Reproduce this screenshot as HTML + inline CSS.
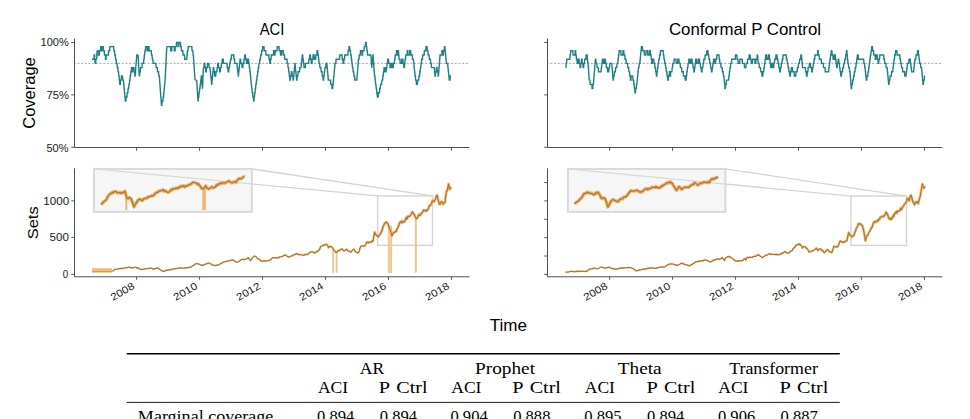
<!DOCTYPE html>
<html><head><meta charset="utf-8"><title>figure</title>
<style>html,body{margin:0;padding:0;background:#fff;overflow:hidden}svg{display:block}</style>
</head><body>
<svg width="970" height="419" viewBox="0 0 970 419"><rect x="0" y="0" width="970" height="419" fill="#fff"/>
<path d="M74.5,38.5 V147.5 H469.40" fill="none" stroke="#484848" stroke-width="0.95"/>
<path d="M136.60,147.5 V150.8" stroke="#484848" stroke-width="0.9"/>
<path d="M199.57,147.5 V150.8" stroke="#484848" stroke-width="0.9"/>
<path d="M262.54,147.5 V150.8" stroke="#484848" stroke-width="0.9"/>
<path d="M325.51,147.5 V150.8" stroke="#484848" stroke-width="0.9"/>
<path d="M388.48,147.5 V150.8" stroke="#484848" stroke-width="0.9"/>
<path d="M451.45,147.5 V150.8" stroke="#484848" stroke-width="0.9"/>
<path d="M71.2,42.5 H74.5" stroke="#484848" stroke-width="0.9"/>
<path d="M71.2,94.9 H74.5" stroke="#484848" stroke-width="0.9"/>
<path d="M71.2,147.3 H74.5" stroke="#484848" stroke-width="0.9"/>
<path d="M74.5,63.4 H469.40" stroke="#8c8c8c" stroke-width="0.75" stroke-dasharray="2.1,1.6" stroke-dashoffset="0.9"/>
<path d="M547.5,38.5 V147.5 H942.40" fill="none" stroke="#484848" stroke-width="0.95"/>
<path d="M609.60,147.5 V150.8" stroke="#484848" stroke-width="0.9"/>
<path d="M672.57,147.5 V150.8" stroke="#484848" stroke-width="0.9"/>
<path d="M735.54,147.5 V150.8" stroke="#484848" stroke-width="0.9"/>
<path d="M798.51,147.5 V150.8" stroke="#484848" stroke-width="0.9"/>
<path d="M861.48,147.5 V150.8" stroke="#484848" stroke-width="0.9"/>
<path d="M924.45,147.5 V150.8" stroke="#484848" stroke-width="0.9"/>
<path d="M544.2,42.5 H547.5" stroke="#484848" stroke-width="0.9"/>
<path d="M544.2,94.9 H547.5" stroke="#484848" stroke-width="0.9"/>
<path d="M544.2,147.3 H547.5" stroke="#484848" stroke-width="0.9"/>
<path d="M547.5,63.4 H942.40" stroke="#8c8c8c" stroke-width="0.75" stroke-dasharray="2.1,1.6" stroke-dashoffset="0.9"/>
<path d="M92.00,59.18 H94.10 V54.99 H94.63 V59.18 H95.00 H94.85 L95.15,63.38 H95.00 H95.70 L96.00,59.18 H96.70 H96.62 L96.93,54.99 H96.77 L97.08,50.79 H97.00 H98.50 V54.99 H99.30 V50.79 H100.40 H100.50 L100.80,46.60 H100.90 H101.25 V50.79 H101.87 V46.60 H103.00 H103.20 L103.50,50.79 H103.70 H104.20 L104.50,54.99 H105.00 H105.51 V59.18 H106.05 V54.99 H108.40 H108.40 L108.70,50.79 H108.70 H109.65 L109.95,46.60 H110.90 H113.40 H113.65 L113.95,50.79 H114.45 L114.75,54.99 H115.00 H115.27 L115.58,59.18 H116.12 L116.43,63.38 H116.70 H116.97 L117.28,67.58 H117.83 L118.13,71.77 H118.40 H118.52 L118.82,75.97 H119.05 L119.35,80.16 H119.58 L119.88,84.36 H120.00 H120.27 L120.58,80.16 H121.12 L121.43,75.97 H121.70 H122.40 L122.70,80.16 H123.40 H123.45 L123.75,84.36 H123.85 L124.15,88.56 H124.25 L124.55,92.75 H124.65 L124.95,96.95 H125.05 L125.35,101.14 H125.40 H125.80 L126.10,96.95 H126.90 L127.20,92.75 H127.60 H127.85 L128.15,88.56 H128.65 L128.95,84.36 H129.20 H129.35 L129.65,80.16 H129.95 L130.25,75.97 H130.40 H130.57 L130.88,71.77 H131.22 L131.53,67.58 H131.70 H132.13 V71.77 H132.55 V67.58 H133.70 H133.90 L134.20,71.77 H134.60 L134.90,75.97 H135.10 H135.12 L135.42,71.77 H135.46 L135.76,67.58 H135.80 L136.10,63.38 H136.14 L136.44,59.18 H136.48 L136.78,54.99 H136.80 H138.10 H138.07 L138.37,59.18 H138.31 L138.61,63.38 H138.55 L138.85,67.58 H138.79 L139.09,71.77 H139.03 L139.33,75.97 H139.30 H139.55 L139.85,71.77 H140.35 L140.65,67.58 H140.90 H142.00 L142.30,63.38 H143.40 H143.53 L143.83,59.18 H144.10 L144.40,54.99 H144.67 L144.97,50.79 H145.10 H145.35 L145.65,46.60 H145.90 H147.15 V50.79 H147.90 V46.60 H148.40 H148.95 L149.25,50.79 H149.80 H151.00 H151.25 L151.55,54.99 H152.05 L152.35,59.18 H152.85 L153.15,63.38 H153.40 H155.10 H155.80 L156.10,67.58 H156.80 H157.28 L157.58,71.77 H158.53 L158.83,75.97 H159.30 H159.31 L159.61,80.16 H159.62 L159.92,84.36 H159.94 L160.24,88.56 H160.25 L160.55,92.75 H160.56 L160.86,96.95 H160.88 L161.18,101.14 H161.19 L161.49,105.34 H161.50 H161.85 L162.15,101.14 H162.85 L163.15,96.95 H163.50 H163.55 L163.85,92.75 H163.95 L164.25,88.56 H164.35 L164.65,84.36 H164.75 L165.05,80.16 H165.10 H165.06 L165.36,75.97 H165.27 L165.57,71.77 H165.48 L165.78,67.58 H165.69 L165.99,63.38 H165.91 L166.21,59.18 H166.12 L166.42,54.99 H166.33 L166.63,50.79 H166.54 L166.84,46.60 H166.80 H170.10 H170.40 L170.70,50.79 H171.00 H171.65 L171.95,46.60 H172.60 H174.28 V50.79 H175.15 V46.60 H176.00 H176.25 L176.55,42.40 H176.80 H178.07 V46.60 H178.85 V42.40 H180.20 H180.42 L180.72,46.60 H181.17 L181.47,50.79 H181.70 H182.80 L183.10,54.99 H184.20 H184.45 L184.75,59.18 H185.00 H186.70 H186.75 L187.05,54.99 H187.15 L187.45,50.79 H187.50 H187.95 L188.25,46.60 H188.70 H191.40 H191.80 L192.10,50.79 H192.50 H192.80 L193.10,54.99 H193.40 H193.38 L193.68,59.18 H193.65 L193.95,63.38 H193.92 L194.22,67.58 H194.18 L194.48,71.77 H194.45 L194.75,75.97 H194.72 L195.02,80.16 H195.00 H196.70 H196.68 L196.98,84.36 H196.94 L197.24,88.56 H197.20 L197.50,92.75 H197.46 L197.76,96.95 H197.72 L198.02,101.14 H198.00 H198.15 L198.45,96.95 H198.75 L199.05,92.75 H199.20 H199.35 L199.65,88.56 H199.95 L200.25,84.36 H200.40 H200.50 L200.80,80.16 H201.00 L201.30,75.97 H201.40 H201.43 L201.73,80.16 H201.80 L202.10,84.36 H202.17 L202.47,88.56 H202.50 H202.44 L202.74,84.36 H202.62 L202.92,80.16 H202.80 L203.10,75.97 H202.98 L203.28,71.77 H203.16 L203.46,67.58 H203.40 H203.90 L204.20,63.38 H204.70 H204.85 L205.15,67.58 H205.45 L205.75,71.77 H205.90 H206.28 L206.58,67.58 H207.32 L207.62,63.38 H208.00 H208.85 L209.15,67.58 H210.00 H210.06 L210.36,71.77 H210.49 L210.79,75.97 H210.91 L211.21,80.16 H211.34 L211.64,84.36 H211.70 H211.76 L212.06,80.16 H212.19 L212.49,75.97 H212.61 L212.91,71.77 H213.04 L213.34,67.58 H213.40 H213.65 L213.95,71.77 H214.45 L214.75,75.97 H215.00 H215.70 L216.00,71.77 H216.70 H216.87 L217.17,67.58 H217.53 L217.83,63.38 H218.00 H218.35 L218.65,67.58 H219.35 L219.65,71.77 H220.00 H220.28 L220.58,67.58 H221.15 L221.45,63.38 H222.02 L222.32,59.18 H222.60 H223.25 L223.55,63.38 H224.20 H226.70 H226.97 L227.28,67.58 H227.82 L228.12,71.77 H228.40 H228.65 L228.95,67.58 H229.45 L229.75,63.38 H230.00 H230.30 L230.60,59.18 H231.20 L231.50,54.99 H231.80 H233.50 H233.75 L234.05,59.18 H234.55 L234.85,63.38 H235.10 H236.80 H236.92 L237.22,67.58 H237.45 L237.75,71.77 H237.98 L238.28,75.97 H238.40 H238.46 L238.76,71.77 H238.89 L239.19,67.58 H239.31 L239.61,63.38 H239.74 L240.04,59.18 H240.10 H240.57 L240.88,63.38 H241.82 L242.12,67.58 H242.60 H242.87 L243.17,63.38 H243.70 L244.00,59.18 H244.53 L244.83,54.99 H245.10 H245.38 L245.68,59.18 H246.22 L246.53,63.38 H246.80 H247.45 L247.75,59.18 H248.40 H248.53 L248.83,63.38 H249.10 L249.40,67.58 H249.67 L249.97,71.77 H250.10 H250.16 L250.46,75.97 H250.59 L250.89,80.16 H251.01 L251.31,84.36 H251.44 L251.74,88.56 H251.80 H251.98 L252.28,92.75 H252.65 L252.95,96.95 H253.32 L253.62,101.14 H253.80 H253.93 L254.23,96.95 H254.47 L254.78,92.75 H255.03 L255.33,88.56 H255.57 L255.88,84.36 H256.00 H256.16 L256.46,80.16 H256.79 L257.09,75.97 H257.41 L257.71,71.77 H258.04 L258.34,67.58 H258.50 H258.77 L259.07,63.38 H259.60 L259.90,59.18 H260.43 L260.73,54.99 H261.00 H261.38 L261.67,50.79 H262.43 L262.73,46.60 H263.10 H263.95 L264.25,50.79 H265.10 H265.80 L266.10,54.99 H266.80 H268.50 H268.78 L269.07,59.18 H269.62 L269.92,63.38 H270.20 H270.38 L270.67,59.18 H271.03 L271.32,54.99 H271.50 H273.59 V50.79 H274.08 V54.99 H274.30 H275.00 L275.30,50.79 H276.00 H277.00 L277.30,46.60 H278.30 H279.00 L279.30,50.79 H280.00 H280.25 L280.55,54.99 H280.80 H281.50 L281.80,50.79 H282.50 H283.20 L283.50,54.99 H284.20 H284.45 L284.75,59.18 H285.00 H286.70 H286.98 L287.27,63.38 H287.82 L288.12,67.58 H288.40 H288.52 L288.82,71.77 H289.05 L289.35,75.97 H289.58 L289.88,80.16 H290.00 H290.28 L290.57,75.97 H291.12 L291.42,71.77 H291.70 H291.98 L292.27,75.97 H292.82 L293.12,80.16 H293.40 H293.45 L293.75,75.97 H293.85 L294.15,71.77 H294.25 L294.55,67.58 H294.65 L294.95,63.38 H295.00 H295.06 L295.36,67.58 H295.49 L295.79,71.77 H295.91 L296.21,75.97 H296.34 L296.64,80.16 H296.70 H296.98 L297.27,75.97 H297.82 L298.12,71.77 H298.40 H299.50 L299.80,67.58 H300.90 H301.02 L301.32,63.38 H301.55 L301.85,59.18 H302.08 L302.38,54.99 H302.50 H302.63 L302.93,59.18 H303.20 L303.50,63.38 H303.77 L304.07,67.58 H304.20 H305.30 L305.60,63.38 H306.70 H308.40 H308.68 L308.97,59.18 H309.53 L309.82,54.99 H310.10 H310.35 L310.65,59.18 H311.15 L311.45,63.38 H311.70 H311.98 L312.27,59.18 H312.82 L313.12,54.99 H313.40 H314.10 L314.40,59.18 H315.10 H315.58 L315.88,54.99 H316.83 L317.12,50.79 H317.60 H317.72 L318.02,54.99 H318.25 L318.55,59.18 H318.78 L319.08,63.38 H319.20 H319.68 L319.97,67.58 H320.93 L321.22,71.77 H321.70 H321.98 L322.27,75.97 H322.82 L323.12,80.16 H323.40 H323.53 L323.83,75.97 H324.10 L324.40,71.77 H324.67 L324.97,67.58 H325.10 H325.80 L326.10,63.38 H326.80 H326.85 L327.15,67.58 H327.25 L327.55,71.77 H327.65 L327.95,75.97 H328.05 L328.35,80.16 H328.40 H330.00 H330.50 L330.80,84.36 H331.80 L332.10,88.56 H332.60 H332.66 L332.96,84.36 H333.08 L333.38,80.16 H333.49 L333.79,75.97 H333.91 L334.21,71.77 H334.33 L334.62,67.58 H334.74 L335.04,63.38 H335.10 H335.80 L336.10,59.18 H336.80 H339.30 H339.55 L339.85,54.99 H340.10 H341.80 H342.05 L342.35,59.18 H342.85 L343.15,63.38 H343.40 H343.68 L343.97,59.18 H344.53 L344.82,54.99 H345.10 H347.60 H347.88 L348.18,50.79 H348.73 L349.02,46.60 H349.30 H349.58 L349.88,50.79 H350.43 L350.72,54.99 H351.00 H351.12 L351.42,59.18 H351.65 L351.95,63.38 H352.18 L352.48,67.58 H352.60 H352.87 L353.17,71.77 H353.70 L354.00,75.97 H354.53 L354.83,80.16 H355.10 H356.80 H356.82 L357.12,75.97 H357.16 L357.46,71.77 H357.50 L357.80,67.58 H357.84 L358.14,63.38 H358.18 L358.48,59.18 H358.50 H358.98 L359.27,54.99 H360.23 L360.52,50.79 H361.00 H361.92 V54.99 H362.57 V50.79 H363.50 H363.98 L364.27,46.60 H365.23 L365.52,42.40 H366.00 H366.13 L366.43,46.60 H366.70 L367.00,50.79 H367.27 L367.57,54.99 H367.70 H371.00 H370.97 L371.27,59.18 H371.20 L371.50,63.38 H371.43 L371.73,67.58 H371.70 H371.77 L372.07,63.38 H372.20 L372.50,59.18 H372.63 L372.93,54.99 H373.00 H373.00 L373.30,59.18 H373.30 L373.60,63.38 H373.60 L373.90,67.58 H373.90 L374.20,71.77 H374.20 H374.32 L374.62,75.97 H374.85 L375.15,80.16 H375.38 L375.68,84.36 H375.80 H375.93 L376.23,88.56 H376.50 L376.80,92.75 H377.07 L377.37,96.95 H377.50 H378.20 L378.50,92.75 H379.20 H379.48 L379.77,88.56 H380.32 L380.62,84.36 H380.90 H381.55 L381.85,80.16 H382.50 H382.63 L382.93,75.97 H383.20 L383.50,71.77 H383.77 L384.07,67.58 H384.20 H384.90 L385.20,71.77 H385.90 H386.10 L386.40,67.58 H386.80 L387.10,63.38 H387.50 L387.80,59.18 H388.00 H388.45 L388.75,63.38 H389.20 H390.04 V67.58 H390.86 V63.38 H391.70 H391.95 L392.25,67.58 H392.50 H393.20 L393.50,63.38 H394.20 H394.35 L394.65,59.18 H394.95 L395.25,54.99 H395.40 H396.52 V50.79 H397.16 V54.99 H397.50 H397.80 L398.10,50.79 H398.40 H398.45 L398.75,54.99 H398.85 L399.15,59.18 H399.20 H399.90 L400.20,63.38 H400.90 H401.60 L401.90,59.18 H402.60 H402.85 L403.15,63.38 H403.65 L403.95,67.58 H404.20 H404.33 L404.63,63.38 H404.90 L405.20,59.18 H405.47 L405.77,54.99 H405.90 H407.26 V50.79 H407.85 V54.99 H409.20 H409.50 L409.80,50.79 H410.10 H410.60 L410.90,54.99 H411.40 H412.25 L412.55,59.18 H413.40 H413.46 L413.76,63.38 H413.89 L414.19,67.58 H414.31 L414.61,71.77 H414.74 L415.04,75.97 H415.10 H415.35 L415.65,80.16 H416.15 L416.45,84.36 H416.70 H417.40 L417.70,80.16 H418.40 H418.68 L418.97,75.97 H419.53 L419.82,71.77 H420.10 H420.23 L420.53,67.58 H420.80 L421.10,63.38 H421.37 L421.67,59.18 H421.80 H422.45 L422.75,54.99 H423.40 H424.10 L424.40,50.79 H425.10 H425.80 L426.10,46.60 H426.80 H427.05 L427.35,50.79 H427.85 L428.15,54.99 H428.40 H429.10 L429.40,59.18 H430.10 H430.38 L430.68,63.38 H431.23 L431.52,67.58 H431.80 H434.20 H434.28 L434.57,71.77 H434.73 L435.02,75.97 H435.10 H435.38 L435.68,71.77 H436.23 L436.52,67.58 H436.80 H437.05 L437.35,71.77 H437.85 L438.15,75.97 H438.40 H438.42 L438.72,71.77 H438.76 L439.06,67.58 H439.10 L439.40,63.38 H439.44 L439.74,59.18 H439.78 L440.08,54.99 H440.10 H441.99 V50.79 H442.61 V54.99 H443.10 H443.38 L443.68,50.79 H444.23 L444.52,46.60 H444.80 H444.86 L445.16,50.79 H445.29 L445.59,54.99 H445.71 L446.01,59.18 H446.14 L446.44,63.38 H446.50 H447.60 H447.66 L447.96,67.58 H448.09 L448.39,71.77 H448.51 L448.81,75.97 H448.94 L449.24,80.16 H449.30 H450.00 L450.30,75.97 H451.00" fill="none" stroke="#1f7f83" stroke-width="1.4" stroke-linejoin="miter"/>
<path d="M565.80,67.58 H565.95 L566.25,63.38 H566.55 L566.85,59.18 H567.00 H568.40 H569.70 H569.85 L570.15,54.99 H570.45 L570.75,50.79 H570.90 H572.50 H572.80 L573.10,54.99 H573.40 H575.15 V50.79 H575.68 V54.99 H575.90 H576.15 L576.45,59.18 H576.70 H576.95 L577.25,63.38 H577.50 H577.95 L578.25,59.18 H578.70 H578.98 L579.27,63.38 H579.83 L580.12,67.58 H580.40 H580.58 L580.88,63.38 H581.23 L581.52,59.18 H581.70 H581.98 L582.27,63.38 H582.83 L583.12,67.58 H583.40 H583.65 L583.95,63.38 H584.45 L584.75,59.18 H585.00 H585.85 L586.15,54.99 H587.00 H587.08 L587.38,59.18 H587.55 L587.85,63.38 H588.02 L588.32,67.58 H588.40 H588.38 L588.68,71.77 H588.65 L588.95,75.97 H588.92 L589.22,80.16 H589.20 H589.90 L590.20,84.36 H590.90 H592.01 V88.56 H592.80 V84.36 H593.40 H593.42 L593.72,80.16 H593.75 L594.05,75.97 H594.08 L594.38,71.77 H594.42 L594.72,67.58 H594.75 L595.05,63.38 H595.08 L595.38,59.18 H595.40 H595.80 L596.10,63.38 H596.90 L597.20,67.58 H597.60 H598.25 L598.55,71.77 H599.20 H600.90 H601.03 L601.33,67.58 H601.60 L601.90,63.38 H602.17 L602.47,59.18 H602.60 H603.25 L603.55,63.38 H604.20 H604.50 L604.80,59.18 H605.10 H605.35 L605.65,63.38 H606.15 L606.45,67.58 H606.70 H607.40 L607.70,71.77 H608.40 H608.68 L608.98,67.58 H609.52 L609.82,63.38 H610.10 H611.80 H611.81 L612.11,67.58 H612.14 L612.44,71.77 H612.46 L612.76,75.97 H612.79 L613.09,80.16 H613.10 H613.38 L613.67,75.97 H614.23 L614.52,71.77 H614.80 H615.35 L615.65,67.58 H616.75 L617.05,63.38 H617.60 H617.73 L618.03,59.18 H618.30 L618.60,54.99 H618.87 L619.17,50.79 H619.30 H620.80 L621.10,54.99 H622.60 H622.85 L623.15,50.79 H623.40 H623.75 L624.05,54.99 H624.75 L625.05,59.18 H625.40 H625.95 L626.25,63.38 H626.80 H627.45 L627.75,67.58 H628.40 H628.68 L628.98,71.77 H629.52 L629.82,75.97 H630.10 H630.44 V80.16 H631.05 V75.97 H632.10 H632.65 L632.95,80.16 H633.50 H633.62 L633.92,84.36 H634.15 L634.45,88.56 H634.68 L634.98,92.75 H635.10 H635.38 L635.67,88.56 H636.23 L636.52,84.36 H636.80 H636.86 L637.16,80.16 H637.29 L637.59,75.97 H637.71 L638.01,71.77 H638.14 L638.44,67.58 H638.50 H639.00 L639.30,63.38 H639.80 H639.86 L640.16,59.18 H640.29 L640.59,54.99 H640.71 L641.01,50.79 H641.14 L641.44,46.60 H641.50 H642.35 L642.65,50.79 H643.50 H644.15 L644.45,54.99 H645.10 H645.80 L646.10,50.79 H646.80 H647.50 L647.80,54.99 H648.50 H649.15 L649.45,50.79 H650.10 H650.30 L650.60,54.99 H651.00 L651.30,59.18 H651.50 H651.80 V63.38 H652.34 V59.18 H653.50 H653.77 L654.07,63.38 H654.63 L654.93,67.58 H655.20 H655.43 L655.73,71.77 H656.18 L656.48,75.97 H656.70 H656.82 L657.12,71.77 H657.35 L657.65,67.58 H657.88 L658.18,63.38 H658.30 H658.57 L658.87,59.18 H659.43 L659.73,54.99 H660.00 H660.25 L660.55,50.79 H660.80 H663.00 H663.15 L663.45,54.99 H663.75 L664.05,59.18 H664.20 H664.48 L664.77,63.38 H665.33 L665.62,67.58 H665.90 H666.10 L666.40,71.77 H666.80 L667.10,75.97 H667.50 L667.80,80.16 H668.00 H668.27 L668.57,75.97 H669.13 L669.43,71.77 H669.70 H670.13 V75.97 H670.55 V71.77 H671.70 H671.88 L672.18,67.58 H672.52 L672.82,63.38 H673.00 H673.85 L674.15,59.18 H675.00 H675.85 L676.15,63.38 H677.00 H677.55 L677.85,59.18 H678.40 H678.88 L679.17,63.38 H680.12 L680.42,67.58 H680.90 H681.55 L681.85,71.77 H682.50 H683.20 L683.50,75.97 H684.20 H684.90 L685.20,80.16 H685.90 H686.03 L686.33,75.97 H686.60 L686.90,71.77 H687.17 L687.47,67.58 H687.60 H687.85 L688.15,63.38 H688.65 L688.95,59.18 H689.20 H689.90 L690.20,63.38 H690.90 H691.15 L691.45,59.18 H691.70 H691.97 L692.27,63.38 H692.80 L693.10,67.58 H693.63 L693.93,71.77 H694.20 H694.33 L694.63,67.58 H694.90 L695.20,63.38 H695.47 L695.77,59.18 H695.90 H696.60 L696.90,63.38 H697.60 H698.25 L698.55,59.18 H699.20 H699.47 L699.77,63.38 H700.30 L700.60,67.58 H701.13 L701.43,71.77 H701.70 H701.97 L702.27,67.58 H702.80 L703.10,63.38 H703.63 L703.93,59.18 H704.20 H704.90 L705.20,54.99 H705.90 H706.60 L706.90,50.79 H707.60 H707.88 L708.17,54.99 H708.73 L709.02,59.18 H709.30 H709.57 L709.87,63.38 H710.40 L710.70,67.58 H711.23 L711.53,71.77 H711.80 H711.98 L712.28,67.58 H712.65 L712.95,63.38 H713.32 L713.62,59.18 H713.80 H714.85 V63.38 H715.60 V59.18 H715.90 H716.60 L716.90,54.99 H717.60 H718.80 H718.98 L719.27,59.18 H719.62 L719.92,63.38 H720.10 H720.80 L721.10,67.58 H721.80 H722.15 L722.45,71.77 H723.15 L723.45,75.97 H723.80 H723.87 L724.17,80.16 H724.30 L724.60,84.36 H724.73 L725.03,88.56 H725.10 H725.38 L725.67,84.36 H726.23 L726.52,80.16 H726.80 H728.50 H728.62 L728.92,75.97 H729.15 L729.45,71.77 H729.68 L729.98,67.58 H730.10 H730.45 L730.75,63.38 H731.45 L731.75,59.18 H732.10 H734.30 H735.25 L735.55,54.99 H736.50 H736.85 L737.15,59.18 H737.85 L738.15,63.38 H738.50 H739.60 L739.90,59.18 H741.00 H742.10 L742.40,63.38 H743.50 H744.20 L744.50,67.58 H745.20 H745.85 L746.15,63.38 H746.80 H747.40 L747.70,59.18 H748.90 L749.20,54.99 H749.80 H750.12 L750.42,59.18 H751.08 L751.38,63.38 H751.70 H752.35 L752.65,59.18 H753.30 H754.98 V63.38 H755.85 V59.18 H756.70 H756.95 L757.25,54.99 H757.50 H757.55 L757.85,59.18 H757.95 L758.25,63.38 H758.30 H759.00 L759.30,67.58 H760.00 H760.48 L760.77,71.77 H761.73 L762.02,75.97 H762.50 H762.77 L763.07,71.77 H763.63 L763.93,67.58 H764.20 H764.33 L764.63,63.38 H764.90 L765.20,59.18 H765.47 L765.77,54.99 H765.90 H766.55 L766.85,59.18 H767.50 H768.20 L768.50,54.99 H769.20 H769.33 L769.63,59.18 H769.90 L770.20,63.38 H770.47 L770.77,67.58 H770.90 H771.84 V63.38 H772.62 V67.58 H773.40 H773.65 L773.95,63.38 H774.45 L774.75,59.18 H775.00 H775.70 L776.00,54.99 H776.70 H776.98 L777.27,59.18 H777.83 L778.12,63.38 H778.40 H778.65 L778.95,67.58 H779.45 L779.75,71.77 H780.00 H780.27 L780.57,67.58 H781.13 L781.43,63.38 H781.70 H781.98 L782.27,59.18 H782.83 L783.12,54.99 H783.40 H785.90 H786.18 L786.48,59.18 H787.02 L787.32,63.38 H787.60 H787.87 L788.17,67.58 H788.70 L789.00,71.77 H789.53 L789.83,75.97 H790.10 H790.35 L790.65,71.77 H791.15 L791.45,67.58 H791.70 H792.40 L792.70,71.77 H793.40 H794.10 L794.40,75.97 H795.10 H795.75 L796.05,71.77 H796.70 H797.12 L797.42,67.58 H798.25 L798.55,63.38 H799.38 L799.68,59.18 H800.10 H800.60 L800.90,54.99 H801.40 H801.45 L801.75,59.18 H801.85 L802.15,63.38 H802.25 L802.55,67.58 H802.60 H805.10 H805.38 L805.67,71.77 H806.23 L806.52,75.97 H806.80 H807.05 L807.35,71.77 H807.85 L808.15,67.58 H808.40 H809.10 L809.40,63.38 H810.10 H810.45 L810.75,67.58 H811.45 L811.75,71.77 H812.10 H812.32 L812.62,67.58 H813.05 L813.35,63.38 H813.78 L814.08,59.18 H814.30 H814.70 L815.00,54.99 H815.40 H817.64 V50.79 H818.13 V54.99 H818.40 H819.10 L819.40,59.18 H820.10 H821.20 L821.50,63.38 H822.60 H823.30 L823.60,67.58 H824.30 H825.00 L825.30,71.77 H826.00 H828.50 H828.62 L828.92,67.58 H829.15 L829.45,63.38 H829.68 L829.98,59.18 H830.10 H830.30 L830.60,54.99 H831.00 L831.30,50.79 H831.50 H831.85 L832.15,54.99 H832.85 L833.15,59.18 H833.50 H834.15 L834.45,54.99 H835.10 H835.23 L835.53,59.18 H835.80 L836.10,63.38 H836.37 L836.67,67.58 H836.80 H837.07 L837.37,63.38 H837.93 L838.23,59.18 H838.50 H838.66 L838.96,63.38 H839.29 L839.59,67.58 H839.91 L840.21,71.77 H840.54 L840.84,75.97 H841.00 H841.40 L841.70,71.77 H842.50 L842.80,67.58 H843.20 H843.55 L843.85,63.38 H844.55 L844.85,59.18 H845.20 H845.45 L845.75,54.99 H846.25 L846.55,50.79 H846.80 H846.85 L847.15,54.99 H847.25 L847.55,59.18 H847.65 L847.95,63.38 H848.00 H848.35 L848.65,67.58 H849.35 L849.65,71.77 H850.00 H850.01 L850.31,75.97 H850.34 L850.64,80.16 H850.66 L850.96,84.36 H850.99 L851.29,88.56 H851.30 H851.57 L851.87,84.36 H852.43 L852.73,80.16 H853.00 H853.27 L853.57,75.97 H854.13 L854.43,71.77 H854.70 H854.98 L855.27,67.58 H855.83 L856.12,63.38 H856.40 H856.52 L856.82,59.18 H857.08 L857.38,54.99 H857.50 H858.20 L858.50,59.18 H859.20 H863.40 H863.65 L863.95,63.38 H864.45 L864.75,67.58 H865.00 H865.08 L865.38,71.77 H865.55 L865.85,75.97 H866.02 L866.32,80.16 H866.40 H866.75 L867.05,75.97 H867.75 L868.05,71.77 H868.40 H868.52 L868.82,67.58 H869.05 L869.35,63.38 H869.58 L869.88,59.18 H870.00 H870.18 L870.48,54.99 H870.85 L871.15,50.79 H871.52 L871.82,46.60 H872.00 H872.40 L872.70,50.79 H873.50 L873.80,54.99 H874.20 H875.23 V59.18 H875.88 V54.99 H877.00 H877.20 L877.50,59.18 H877.90 L878.20,63.38 H878.40 H878.68 L878.98,59.18 H879.52 L879.82,54.99 H880.10 H883.40 H883.65 L883.95,59.18 H884.45 L884.75,63.38 H885.00 H885.90 L886.20,67.58 H887.10 H887.15 L887.45,71.77 H887.55 L887.85,75.97 H887.95 L888.25,80.16 H888.35 L888.65,84.36 H888.70 H888.98 L889.27,80.16 H889.83 L890.12,75.97 H890.40 H891.35 L891.65,71.77 H892.60 H892.72 L893.02,67.58 H893.25 L893.55,63.38 H893.78 L894.08,59.18 H894.20 H894.48 L894.77,54.99 H895.33 L895.62,50.79 H895.90 H896.85 L897.15,54.99 H898.10 H899.50 H899.73 L900.03,59.18 H900.50 L900.80,63.38 H901.27 L901.57,67.58 H901.80 H902.45 L902.75,71.77 H903.40 H904.50 L904.80,75.97 H905.90 H906.03 L906.33,71.77 H906.60 L906.90,67.58 H907.17 L907.47,63.38 H907.60 H908.70 L909.00,59.18 H910.10 H910.23 L910.53,63.38 H910.80 L911.10,67.58 H911.37 L911.67,71.77 H911.80 H913.50 H913.62 L913.92,67.58 H914.15 L914.45,63.38 H914.68 L914.98,59.18 H915.10 H915.80 L916.10,54.99 H916.80 H917.30 L917.60,50.79 H918.10 H918.23 L918.53,54.99 H918.80 L919.10,59.18 H919.37 L919.67,63.38 H919.80 H920.50 L920.80,67.58 H921.50 H921.55 L921.85,71.77 H921.95 L922.25,75.97 H922.35 L922.65,80.16 H922.75 L923.05,84.36 H923.10 H923.38 L923.67,80.16 H924.23 L924.52,75.97 H924.80" fill="none" stroke="#1f7f83" stroke-width="1.4" stroke-linejoin="miter"/>
<path d="M74.5,168.3 V276.8 H469.40" fill="none" stroke="#484848" stroke-width="0.95"/>
<path d="M136.60,276.8 V279.8" stroke="#484848" stroke-width="0.9"/>
<text transform="translate(135.30,288.0) rotate(-30)" font-size="10.1" text-anchor="end" font-family="Liberation Sans" fill="#1a1a1a" textLength="25.9" lengthAdjust="spacingAndGlyphs">2008</text>
<path d="M199.57,276.8 V279.8" stroke="#484848" stroke-width="0.9"/>
<text transform="translate(198.27,288.0) rotate(-30)" font-size="10.1" text-anchor="end" font-family="Liberation Sans" fill="#1a1a1a" textLength="25.9" lengthAdjust="spacingAndGlyphs">2010</text>
<path d="M262.54,276.8 V279.8" stroke="#484848" stroke-width="0.9"/>
<text transform="translate(261.24,288.0) rotate(-30)" font-size="10.1" text-anchor="end" font-family="Liberation Sans" fill="#1a1a1a" textLength="25.9" lengthAdjust="spacingAndGlyphs">2012</text>
<path d="M325.51,276.8 V279.8" stroke="#484848" stroke-width="0.9"/>
<text transform="translate(324.21,288.0) rotate(-30)" font-size="10.1" text-anchor="end" font-family="Liberation Sans" fill="#1a1a1a" textLength="25.9" lengthAdjust="spacingAndGlyphs">2014</text>
<path d="M388.48,276.8 V279.8" stroke="#484848" stroke-width="0.9"/>
<text transform="translate(387.18,288.0) rotate(-30)" font-size="10.1" text-anchor="end" font-family="Liberation Sans" fill="#1a1a1a" textLength="25.9" lengthAdjust="spacingAndGlyphs">2016</text>
<path d="M451.45,276.8 V279.8" stroke="#484848" stroke-width="0.9"/>
<text transform="translate(450.15,288.0) rotate(-30)" font-size="10.1" text-anchor="end" font-family="Liberation Sans" fill="#1a1a1a" textLength="25.9" lengthAdjust="spacingAndGlyphs">2018</text>
<path d="M71.2,200.9 H74.5" stroke="#484848" stroke-width="0.9"/>
<path d="M71.2,237.4 H74.5" stroke="#484848" stroke-width="0.9"/>
<path d="M71.2,274.4 H74.5" stroke="#484848" stroke-width="0.9"/>
<path d="M547.5,168.3 V276.8 H942.40" fill="none" stroke="#484848" stroke-width="0.95"/>
<path d="M609.60,276.8 V279.8" stroke="#484848" stroke-width="0.9"/>
<text transform="translate(608.30,288.0) rotate(-30)" font-size="10.1" text-anchor="end" font-family="Liberation Sans" fill="#1a1a1a" textLength="25.9" lengthAdjust="spacingAndGlyphs">2008</text>
<path d="M672.57,276.8 V279.8" stroke="#484848" stroke-width="0.9"/>
<text transform="translate(671.27,288.0) rotate(-30)" font-size="10.1" text-anchor="end" font-family="Liberation Sans" fill="#1a1a1a" textLength="25.9" lengthAdjust="spacingAndGlyphs">2010</text>
<path d="M735.54,276.8 V279.8" stroke="#484848" stroke-width="0.9"/>
<text transform="translate(734.24,288.0) rotate(-30)" font-size="10.1" text-anchor="end" font-family="Liberation Sans" fill="#1a1a1a" textLength="25.9" lengthAdjust="spacingAndGlyphs">2012</text>
<path d="M798.51,276.8 V279.8" stroke="#484848" stroke-width="0.9"/>
<text transform="translate(797.21,288.0) rotate(-30)" font-size="10.1" text-anchor="end" font-family="Liberation Sans" fill="#1a1a1a" textLength="25.9" lengthAdjust="spacingAndGlyphs">2014</text>
<path d="M861.48,276.8 V279.8" stroke="#484848" stroke-width="0.9"/>
<text transform="translate(860.18,288.0) rotate(-30)" font-size="10.1" text-anchor="end" font-family="Liberation Sans" fill="#1a1a1a" textLength="25.9" lengthAdjust="spacingAndGlyphs">2016</text>
<path d="M924.45,276.8 V279.8" stroke="#484848" stroke-width="0.9"/>
<text transform="translate(923.15,288.0) rotate(-30)" font-size="10.1" text-anchor="end" font-family="Liberation Sans" fill="#1a1a1a" textLength="25.9" lengthAdjust="spacingAndGlyphs">2018</text>
<path d="M544.2,274.40 H547.5" stroke="#484848" stroke-width="0.9"/>
<path d="M544.2,256.03 H547.5" stroke="#484848" stroke-width="0.9"/>
<path d="M544.2,237.66 H547.5" stroke="#484848" stroke-width="0.9"/>
<path d="M544.2,219.29 H547.5" stroke="#484848" stroke-width="0.9"/>
<path d="M544.2,200.92 H547.5" stroke="#484848" stroke-width="0.9"/>
<path d="M544.2,182.55 H547.5" stroke="#484848" stroke-width="0.9"/>
<line x1="251.85" y1="168.9" x2="432.5" y2="195.9" stroke="#d4d4d4" stroke-width="1.3"/>
<rect x="377.6" y="195.9" width="54.90" height="49.40" fill="none" stroke="#d4d4d4" stroke-width="1.4"/>
<line x1="93.9" y1="168.9" x2="377.6" y2="195.9" stroke="#d4d4d4" stroke-width="1.3"/>
<rect x="93.9" y="168.9" width="157.95" height="42.95" fill="#f4f4f4" fill-opacity="0.85" stroke="#d9d9d9" stroke-width="2"/>
<line x1="93.9" y1="168.9" x2="251.85" y2="183.93" stroke="#dadada" stroke-width="1.2"/>
<rect x="125.7" y="196" width="1.3" height="13.800000000000011" fill="#f0b868" stroke="#dda55a" stroke-width="0.4"/>
<rect x="202.7" y="189" width="2.9" height="20.80000000000001" fill="#f0b868" stroke="#dda55a" stroke-width="0.4"/>
<polyline points="101.3,204.7 102.6,202.7 103.9,201.6 105.2,200.6 106.5,199.5 107.5,197.2 108.6,195.3 109.7,194.4 110.7,193.2 111.6,193.3 112.5,192.1 113.4,192.7 114.7,191.3 116.0,191.6 117.3,192.8 118.6,192.7 119.9,192.5 121.2,193.2 122.2,192.5 123.3,192.7 124.9,191.1 126.0,195.3 127.1,198.5 128.1,198.8 129.2,197.4 130.2,198.1 131.3,199.0 132.9,203.7 133.9,206.9 135.5,203.7 136.6,202.8 137.6,200.6 138.6,199.8 139.7,199.0 141.0,200.1 142.3,200.6 143.7,198.9 145.0,198.5 146.0,198.2 147.1,198.1 148.1,196.9 149.2,196.6 150.2,196.6 151.3,195.8 152.6,195.9 153.9,195.3 155.2,193.2 156.5,192.7 157.6,192.4 158.6,191.1 159.9,191.0 161.2,190.6 162.1,190.2 163.1,189.8 164.0,191.3 164.9,190.6 166.0,191.1 167.0,192.1 168.1,192.2 169.1,192.0 170.2,190.8 171.2,189.5 172.2,189.9 173.2,188.6 174.2,188.5 175.2,188.8 176.3,187.9 177.3,188.5 178.4,187.4 179.4,187.8 180.5,186.2 181.6,186.0 182.6,186.4 183.7,185.8 184.7,187.0 185.8,185.9 186.8,185.9 187.7,185.7 188.7,184.7 189.6,184.7 190.5,184.3 191.5,183.4 192.6,182.6 193.6,182.2 194.5,182.7 195.4,183.0 196.3,183.2 197.4,184.2 198.4,183.8 199.4,185.4 200.5,186.4 201.6,188.5 202.6,189.0 204.2,188.0 205.7,185.9 206.8,187.8 207.8,188.5 208.9,189.0 209.9,188.1 211.0,187.4 212.0,186.8 213.1,188.0 214.1,187.4 215.4,186.9 216.7,184.8 217.8,185.1 218.9,184.0 220.0,183.4 221.1,183.7 222.3,182.6 223.4,183.0 224.5,183.3 225.6,182.5 226.7,182.1 227.8,181.6 228.9,181.0 230.0,181.7 231.1,182.5 232.3,182.8 233.4,182.1 234.7,181.6 235.9,182.5 237.5,180.0 239.2,178.4 240.4,178.9 241.7,178.4 242.8,177.4 243.8,176.7 244.6,177.1" fill="none" stroke="#ebb263" stroke-width="3.4" stroke-linejoin="round"/>
<polyline points="101.3,204.7 102.6,202.7 103.9,201.6 105.2,200.6 106.5,199.5 107.5,197.2 108.6,195.3 109.7,194.4 110.7,193.2 111.6,193.3 112.5,192.1 113.4,192.7 114.7,191.3 116.0,191.6 117.3,192.8 118.6,192.7 119.9,192.5 121.2,193.2 122.2,192.5 123.3,192.7 124.9,191.1 126.0,195.3 127.1,198.5 128.1,198.8 129.2,197.4 130.2,198.1 131.3,199.0 132.9,203.7 133.9,206.9 135.5,203.7 136.6,202.8 137.6,200.6 138.6,199.8 139.7,199.0 141.0,200.1 142.3,200.6 143.7,198.9 145.0,198.5 146.0,198.2 147.1,198.1 148.1,196.9 149.2,196.6 150.2,196.6 151.3,195.8 152.6,195.9 153.9,195.3 155.2,193.2 156.5,192.7 157.6,192.4 158.6,191.1 159.9,191.0 161.2,190.6 162.1,190.2 163.1,189.8 164.0,191.3 164.9,190.6 166.0,191.1 167.0,192.1 168.1,192.2 169.1,192.0 170.2,190.8 171.2,189.5 172.2,189.9 173.2,188.6 174.2,188.5 175.2,188.8 176.3,187.9 177.3,188.5 178.4,187.4 179.4,187.8 180.5,186.2 181.6,186.0 182.6,186.4 183.7,185.8 184.7,187.0 185.8,185.9 186.8,185.9 187.7,185.7 188.7,184.7 189.6,184.7 190.5,184.3 191.5,183.4 192.6,182.6 193.6,182.2 194.5,182.7 195.4,183.0 196.3,183.2 197.4,184.2 198.4,183.8 199.4,185.4 200.5,186.4 201.6,188.5 202.6,189.0 204.2,188.0 205.7,185.9 206.8,187.8 207.8,188.5 208.9,189.0 209.9,188.1 211.0,187.4 212.0,186.8 213.1,188.0 214.1,187.4 215.4,186.9 216.7,184.8 217.8,185.1 218.9,184.0 220.0,183.4 221.1,183.7 222.3,182.6 223.4,183.0 224.5,183.3 225.6,182.5 226.7,182.1 227.8,181.6 228.9,181.0 230.0,181.7 231.1,182.5 232.3,182.8 233.4,182.1 234.7,181.6 235.9,182.5 237.5,180.0 239.2,178.4 240.4,178.9 241.7,178.4 242.8,177.4 243.8,176.7 244.6,177.1" fill="none" stroke="#a97538" stroke-width="1.1" stroke-linejoin="round"/>
<line x1="725.4" y1="168.9" x2="906.5" y2="196.1" stroke="#d4d4d4" stroke-width="1.3"/>
<rect x="851.0" y="196.1" width="55.50" height="49.30" fill="none" stroke="#d4d4d4" stroke-width="1.4"/>
<line x1="567.9" y1="168.9" x2="851.0" y2="196.1" stroke="#d4d4d4" stroke-width="1.3"/>
<rect x="567.9" y="168.9" width="157.50" height="42.95" fill="#f4f4f4" fill-opacity="0.85" stroke="#d9d9d9" stroke-width="2"/>
<line x1="567.9" y1="168.9" x2="725.4" y2="184.03" stroke="#dadada" stroke-width="1.2"/>
<polyline points="574.8,204.2 575.7,202.7 576.6,202.1 577.5,201.6 578.8,200.8 580.1,199.0 581.4,198.1 582.7,195.8 584.0,193.7 585.3,193.2 586.4,193.2 587.4,192.0 588.5,192.7 589.8,193.3 591.1,193.2 592.4,193.7 593.7,194.8 594.8,194.4 595.8,192.7 596.8,193.3 597.9,192.2 599.0,193.8 600.0,195.3 601.0,197.8 602.1,198.5 603.2,197.9 604.2,197.9 605.2,199.0 606.3,201.6 607.9,206.9 609.0,205.2 610.0,203.2 611.1,201.1 612.1,200.2 613.2,199.5 615.0,200.6 616.1,200.8 617.1,201.5 618.2,201.6 619.2,200.1 620.3,199.0 621.3,199.0 622.4,199.0 623.4,197.3 624.5,196.9 625.5,197.0 626.6,196.2 627.6,194.8 628.7,193.2 629.7,191.9 630.8,190.6 632.1,190.9 633.4,191.1 634.3,191.1 635.2,190.8 636.2,190.5 637.1,190.1 638.1,190.8 639.2,191.9 640.2,191.7 641.3,192.2 642.3,191.3 643.4,191.0 644.5,189.3 645.5,189.0 646.5,188.5 647.6,189.6 648.7,188.7 649.7,188.5 650.8,188.3 651.8,187.1 652.9,187.5 653.9,187.4 655.0,187.5 656.0,186.5 657.0,187.6 658.1,187.4 659.0,187.9 660.0,187.9 661.0,186.3 661.9,186.5 662.9,185.5 663.8,184.8 664.8,184.6 665.7,183.6 666.7,182.9 667.6,183.0 668.6,182.2 669.6,182.9 670.5,181.9 671.5,183.1 672.4,183.4 673.4,185.7 674.3,186.5 675.5,189.2 676.7,190.3 677.9,188.0 679.1,186.5 680.3,187.9 681.5,189.4 682.6,188.9 683.7,187.7 684.8,187.4 685.8,187.2 686.8,187.1 687.7,187.2 688.7,187.4 689.6,186.8 690.6,185.5 691.5,185.1 692.5,184.4 693.4,184.6 694.3,182.7 695.3,183.1 696.3,183.9 697.2,184.9 698.2,185.1 699.2,184.1 700.1,183.3 701.1,183.1 702.0,183.5 703.0,182.3 703.9,182.0 704.9,182.3 705.8,182.2 706.9,182.7 708.1,181.8 709.2,182.7 710.4,180.4 711.6,178.8 712.5,178.5 713.5,179.4 714.4,178.8 715.5,177.9 716.7,177.9 717.8,176.5" fill="none" stroke="#ebb263" stroke-width="3.4" stroke-linejoin="round"/>
<polyline points="574.8,204.2 575.7,202.7 576.6,202.1 577.5,201.6 578.8,200.8 580.1,199.0 581.4,198.1 582.7,195.8 584.0,193.7 585.3,193.2 586.4,193.2 587.4,192.0 588.5,192.7 589.8,193.3 591.1,193.2 592.4,193.7 593.7,194.8 594.8,194.4 595.8,192.7 596.8,193.3 597.9,192.2 599.0,193.8 600.0,195.3 601.0,197.8 602.1,198.5 603.2,197.9 604.2,197.9 605.2,199.0 606.3,201.6 607.9,206.9 609.0,205.2 610.0,203.2 611.1,201.1 612.1,200.2 613.2,199.5 615.0,200.6 616.1,200.8 617.1,201.5 618.2,201.6 619.2,200.1 620.3,199.0 621.3,199.0 622.4,199.0 623.4,197.3 624.5,196.9 625.5,197.0 626.6,196.2 627.6,194.8 628.7,193.2 629.7,191.9 630.8,190.6 632.1,190.9 633.4,191.1 634.3,191.1 635.2,190.8 636.2,190.5 637.1,190.1 638.1,190.8 639.2,191.9 640.2,191.7 641.3,192.2 642.3,191.3 643.4,191.0 644.5,189.3 645.5,189.0 646.5,188.5 647.6,189.6 648.7,188.7 649.7,188.5 650.8,188.3 651.8,187.1 652.9,187.5 653.9,187.4 655.0,187.5 656.0,186.5 657.0,187.6 658.1,187.4 659.0,187.9 660.0,187.9 661.0,186.3 661.9,186.5 662.9,185.5 663.8,184.8 664.8,184.6 665.7,183.6 666.7,182.9 667.6,183.0 668.6,182.2 669.6,182.9 670.5,181.9 671.5,183.1 672.4,183.4 673.4,185.7 674.3,186.5 675.5,189.2 676.7,190.3 677.9,188.0 679.1,186.5 680.3,187.9 681.5,189.4 682.6,188.9 683.7,187.7 684.8,187.4 685.8,187.2 686.8,187.1 687.7,187.2 688.7,187.4 689.6,186.8 690.6,185.5 691.5,185.1 692.5,184.4 693.4,184.6 694.3,182.7 695.3,183.1 696.3,183.9 697.2,184.9 698.2,185.1 699.2,184.1 700.1,183.3 701.1,183.1 702.0,183.5 703.0,182.3 703.9,182.0 704.9,182.3 705.8,182.2 706.9,182.7 708.1,181.8 709.2,182.7 710.4,180.4 711.6,178.8 712.5,178.5 713.5,179.4 714.4,178.8 715.5,177.9 716.7,177.9 717.8,176.5" fill="none" stroke="#a97538" stroke-width="1.1" stroke-linejoin="round"/>
<rect x="92" y="268.2" width="20" height="4.2" fill="#efc070"/>
<path d="M92,271.8 H112" stroke="#c8893e" stroke-width="0.9"/>
<rect x="332.8" y="249" width="1.1" height="23.69999999999999" fill="#f6cf98" stroke="#dca868" stroke-width="0.4"/>
<rect x="336.0" y="251" width="1.1" height="21.69999999999999" fill="#f6cf98" stroke="#dca868" stroke-width="0.4"/>
<rect x="388.1" y="226" width="3.8" height="46.69999999999999" fill="#f6cf98" stroke="#dca868" stroke-width="0.4"/>
<rect x="415.1" y="217" width="1.4" height="55.69999999999999" fill="#f6cf98" stroke="#dca868" stroke-width="0.4"/>
<polyline points="112.6,271.3 113.5,270.4 114.3,269.8 115.2,269.2 116.0,269.2 116.8,269.3 117.7,268.9 118.5,268.6 119.3,268.7" fill="none" stroke="#eebb74" stroke-width="1.50" stroke-linejoin="round" stroke-linecap="round"/>
<polyline points="119.3,268.7 120.0,268.4 120.7,268.6 121.4,268.2 122.1,268.6 122.8,268.5 123.5,268.2 124.2,267.8 125.0,267.8" fill="none" stroke="#eebb74" stroke-width="1.50" stroke-linejoin="round" stroke-linecap="round"/>
<polyline points="125.0,267.8 125.7,268.0 126.4,267.7 127.1,267.7 127.9,267.2 128.6,267.2 129.3,267.1 130.0,267.3 130.8,267.8" fill="none" stroke="#eebb74" stroke-width="1.50" stroke-linejoin="round" stroke-linecap="round"/>
<polyline points="130.8,267.8 131.5,267.6 132.2,267.9 133.0,267.6 133.8,267.5 134.5,267.3 135.3,267.2 136.0,267.4 136.7,268.0" fill="none" stroke="#eebb74" stroke-width="1.50" stroke-linejoin="round" stroke-linecap="round"/>
<polyline points="136.7,268.0 137.5,267.7 138.2,267.9 138.9,268.5 139.7,269.1 140.4,269.3 141.2,269.6 142.0,269.5 142.8,269.3" fill="none" stroke="#eebb74" stroke-width="1.50" stroke-linejoin="round" stroke-linecap="round"/>
<polyline points="142.8,269.3 143.6,269.4 144.5,269.2 145.3,268.5 146.1,268.5 146.8,268.6 147.6,268.6 148.3,268.5 149.1,268.3" fill="none" stroke="#eebb74" stroke-width="1.50" stroke-linejoin="round" stroke-linecap="round"/>
<polyline points="149.1,268.3 149.8,268.1 150.6,268.1 151.3,268.2 152.4,268.5 153.4,269.2 154.2,268.6 155.0,268.7 155.9,268.3" fill="none" stroke="#eebb74" stroke-width="1.50" stroke-linejoin="round" stroke-linecap="round"/>
<polyline points="155.9,268.3 156.7,268.4 157.5,267.9 158.3,268.0 159.1,269.1 159.8,269.4 160.6,269.7 161.5,270.5 162.3,271.0" fill="none" stroke="#eebb74" stroke-width="1.50" stroke-linejoin="round" stroke-linecap="round"/>
<polyline points="162.3,271.0 163.2,271.3 163.9,271.4 164.6,271.0 165.4,270.4 166.1,270.7 166.8,270.3 167.5,269.9 168.3,269.8" fill="none" stroke="#eebb74" stroke-width="1.50" stroke-linejoin="round" stroke-linecap="round"/>
<polyline points="168.3,269.8 169.0,269.9 169.7,269.7 170.4,269.5 171.2,269.7 171.9,269.2 172.7,269.2 173.4,268.8 174.2,268.7" fill="none" stroke="#eebb74" stroke-width="1.50" stroke-linejoin="round" stroke-linecap="round"/>
<polyline points="174.2,268.7 175.0,269.0 175.8,268.6 176.6,268.6 177.3,268.2 178.1,268.2 178.9,268.0 179.7,268.1 180.4,268.3" fill="none" stroke="#eebb74" stroke-width="1.50" stroke-linejoin="round" stroke-linecap="round"/>
<polyline points="180.4,268.3 181.2,267.8 182.0,268.2 182.8,268.3 183.5,268.2 184.3,267.9 185.1,268.1 185.9,267.5 186.6,267.8" fill="none" stroke="#eebb74" stroke-width="1.50" stroke-linejoin="round" stroke-linecap="round"/>
<polyline points="186.6,267.8 187.4,268.0 188.2,267.3 188.9,267.4 189.7,267.4 190.5,267.5 191.3,266.9 192.1,266.2 192.8,265.7" fill="none" stroke="#eebb74" stroke-width="1.50" stroke-linejoin="round" stroke-linecap="round"/>
<polyline points="192.8,265.7 193.6,265.1 194.4,265.0 195.1,264.1 195.9,263.8 196.7,263.8 197.5,263.7 198.2,263.9 199.0,264.1" fill="none" stroke="#eebb74" stroke-width="1.50" stroke-linejoin="round" stroke-linecap="round"/>
<polyline points="199.0,264.1 199.8,264.6 200.6,265.1 201.3,265.2 202.1,264.9 202.8,265.4 203.5,265.1 204.3,264.6 205.0,264.4" fill="none" stroke="#eebb74" stroke-width="1.50" stroke-linejoin="round" stroke-linecap="round"/>
<polyline points="205.0,264.4 205.7,264.0 206.4,263.7 207.2,263.7 207.9,263.3 208.6,263.0 209.3,263.3 210.0,263.5 210.8,264.0" fill="none" stroke="#eebb74" stroke-width="1.50" stroke-linejoin="round" stroke-linecap="round"/>
<polyline points="210.8,264.0 211.5,264.3 212.2,264.9 212.9,265.1 213.6,265.4 214.4,265.3 215.1,265.2 215.8,265.7 216.5,265.2" fill="none" stroke="#eebb74" stroke-width="1.50" stroke-linejoin="round" stroke-linecap="round"/>
<polyline points="216.5,265.2 217.2,265.1 218.0,265.0 218.7,264.9 219.4,264.4 220.2,263.8 221.1,263.7 221.9,263.0 222.8,262.4" fill="none" stroke="#eebb74" stroke-width="1.50" stroke-linejoin="round" stroke-linecap="round"/>
<polyline points="222.8,262.4 223.6,262.0 224.4,261.7 225.2,261.6 226.1,261.6 226.9,261.1 227.7,261.0 228.4,261.0 229.2,260.7" fill="none" stroke="#eebb74" stroke-width="1.50" stroke-linejoin="round" stroke-linecap="round"/>
<polyline points="229.2,260.7 229.9,260.4 230.6,260.5 231.3,260.4 232.1,259.8 232.8,260.0 233.6,260.3 234.4,260.7 235.1,261.5" fill="none" stroke="#eebb74" stroke-width="1.50" stroke-linejoin="round" stroke-linecap="round"/>
<polyline points="235.1,261.5 235.9,261.6 236.7,262.3 237.5,262.3 238.2,261.7 238.9,261.6 239.7,261.0 240.4,260.0 241.1,259.7" fill="none" stroke="#eebb74" stroke-width="1.50" stroke-linejoin="round" stroke-linecap="round"/>
<polyline points="241.1,259.7 241.9,259.6 242.7,259.2 243.6,259.7 244.4,259.4 245.2,259.2 246.0,259.2 246.8,258.7 247.5,258.2" fill="none" stroke="#eebb74" stroke-width="1.50" stroke-linejoin="round" stroke-linecap="round"/>
<polyline points="247.5,258.2 248.3,257.7 249.4,259.4 250.4,260.6 251.2,259.7 251.9,258.2 252.7,257.7 253.5,256.6 254.5,256.1" fill="none" stroke="#eebb74" stroke-width="1.50" stroke-linejoin="round" stroke-linecap="round"/>
<polyline points="254.5,256.1 255.5,256.6 256.4,257.0 257.2,258.4 258.1,258.9 258.8,259.0 259.5,259.5 260.3,260.0 261.0,261.1" fill="none" stroke="#eebb74" stroke-width="1.50" stroke-linejoin="round" stroke-linecap="round"/>
<polyline points="261.0,261.1 261.7,261.3 262.4,261.0 263.2,260.8 263.9,261.4 264.7,260.7 265.4,261.2 266.2,261.0 266.9,260.8" fill="none" stroke="#eebb74" stroke-width="1.50" stroke-linejoin="round" stroke-linecap="round"/>
<polyline points="266.9,260.8 267.7,260.8 268.5,260.7 269.4,260.1 270.2,260.0 271.0,259.5 272.0,258.1 273.0,257.5 273.8,257.8" fill="none" stroke="#eebb74" stroke-width="1.50" stroke-linejoin="round" stroke-linecap="round"/>
<polyline points="273.8,257.8 274.7,257.7 275.5,257.9 276.4,257.4 277.2,257.9 278.0,257.9 278.8,257.8 279.7,256.7 280.5,256.7" fill="none" stroke="#eebb74" stroke-width="1.52" stroke-linejoin="round" stroke-linecap="round"/>
<polyline points="280.5,256.7 281.3,256.6 282.1,256.4 282.9,256.3 283.8,255.4 284.6,255.1 285.4,255.1 286.1,255.3 286.8,256.1" fill="none" stroke="#eebb74" stroke-width="1.58" stroke-linejoin="round" stroke-linecap="round"/>
<polyline points="286.8,256.1 287.6,256.6 288.3,256.7 289.0,257.2 289.7,256.7 290.4,256.5 291.2,256.1 291.9,255.8 292.6,255.6" fill="none" stroke="#eebb74" stroke-width="1.57" stroke-linejoin="round" stroke-linecap="round"/>
<polyline points="292.6,255.6 293.4,254.7 294.1,254.7 294.9,254.8 295.7,253.8 296.4,253.8 297.1,254.3 297.9,253.8 298.6,254.5" fill="none" stroke="#eebb74" stroke-width="1.64" stroke-linejoin="round" stroke-linecap="round"/>
<polyline points="298.6,254.5 299.3,254.7 300.0,254.5 300.7,254.8 301.4,254.8 302.1,254.8 302.9,255.1 303.6,255.5 304.3,255.2" fill="none" stroke="#eebb74" stroke-width="1.62" stroke-linejoin="round" stroke-linecap="round"/>
<polyline points="304.3,255.2 305.1,254.5 305.8,254.2 306.6,254.6 307.3,254.6 308.1,253.8 308.9,253.2 309.7,252.6 310.5,252.3" fill="none" stroke="#eebb74" stroke-width="1.66" stroke-linejoin="round" stroke-linecap="round"/>
<polyline points="310.5,252.3 311.3,251.5 312.1,251.5 312.9,252.0 313.7,252.3 314.5,253.1 315.3,252.8 316.0,252.0 316.8,251.4" fill="none" stroke="#eebb74" stroke-width="1.74" stroke-linejoin="round" stroke-linecap="round"/>
<polyline points="316.8,251.4 317.5,251.6 318.3,250.9 319.4,249.7 320.4,247.2 321.3,246.2 322.2,246.1 323.1,245.0 323.9,244.8" fill="none" stroke="#eebb74" stroke-width="1.90" stroke-linejoin="round" stroke-linecap="round"/>
<polyline points="323.9,244.8 324.6,245.4 325.4,244.8 326.1,244.2 326.9,244.5 327.7,245.7 328.5,247.7 329.4,246.5 330.2,246.7" fill="none" stroke="#eebb74" stroke-width="2.00" stroke-linejoin="round" stroke-linecap="round"/>
<polyline points="330.2,246.7 331.1,246.3 331.8,247.1 332.6,247.8 333.3,249.3 334.2,250.2 335.1,251.3 336.0,252.6 336.9,252.2" fill="none" stroke="#eebb74" stroke-width="1.85" stroke-linejoin="round" stroke-linecap="round"/>
<polyline points="336.9,252.2 337.8,250.7 338.7,250.4 339.5,250.7 340.3,249.6 341.1,249.3 341.9,248.8 342.6,249.5 343.3,250.6" fill="none" stroke="#eebb74" stroke-width="1.81" stroke-linejoin="round" stroke-linecap="round"/>
<polyline points="343.3,250.6 344.0,250.9 344.7,250.7 345.5,249.8 346.2,249.1 346.9,249.6 347.6,250.4 348.4,251.0 349.1,250.9" fill="none" stroke="#eebb74" stroke-width="1.81" stroke-linejoin="round" stroke-linecap="round"/>
<polyline points="349.1,250.9 349.8,251.8 350.5,252.0 351.3,251.9 352.1,250.6 352.9,249.6 353.7,249.3 354.4,249.8 355.2,251.4" fill="none" stroke="#eebb74" stroke-width="1.79" stroke-linejoin="round" stroke-linecap="round"/>
<polyline points="355.2,251.4 355.9,252.0 356.8,252.4 357.6,253.0 358.5,252.6 359.2,251.1 360.0,248.2 360.7,246.6 361.4,246.0" fill="none" stroke="#eebb74" stroke-width="1.81" stroke-linejoin="round" stroke-linecap="round"/>
<polyline points="361.4,246.0 362.2,246.0 362.9,245.8 363.7,246.5 364.4,246.1 365.1,245.4 365.9,244.3 366.6,242.4 367.4,242.0" fill="none" stroke="#eebb74" stroke-width="2.02" stroke-linejoin="round" stroke-linecap="round"/>
<polyline points="367.4,242.0 368.2,243.0 369.0,242.1 369.8,242.4 370.6,242.0 371.4,242.3 372.2,240.8 373.0,241.3 373.9,235.9" fill="none" stroke="#eebb74" stroke-width="2.17" stroke-linejoin="round" stroke-linecap="round"/>
<polyline points="373.9,235.9 374.7,232.1 375.5,234.4 376.3,235.2 377.2,235.7 378.1,237.0 379.0,235.5 379.9,234.6 380.7,233.2" fill="none" stroke="#eebb74" stroke-width="2.43" stroke-linejoin="round" stroke-linecap="round"/>
<polyline points="380.7,233.2 381.5,231.8 382.3,229.8 383.1,226.4 383.9,225.0 384.7,223.3 385.6,222.5 386.5,222.1 387.4,223.3" fill="none" stroke="#eebb74" stroke-width="2.70" stroke-linejoin="round" stroke-linecap="round"/>
<polyline points="387.4,223.3 388.3,224.5 389.5,228.6 390.7,231.0 391.8,235.8 393.0,233.4 393.8,232.2 394.6,232.4 395.4,231.6" fill="none" stroke="#eebb74" stroke-width="2.61" stroke-linejoin="round" stroke-linecap="round"/>
<polyline points="395.4,231.6 396.2,231.5 397.0,228.9 397.8,228.0 398.6,226.1 399.4,223.1 400.2,222.1 400.9,221.5 401.7,222.6" fill="none" stroke="#eebb74" stroke-width="2.70" stroke-linejoin="round" stroke-linecap="round"/>
<polyline points="401.7,222.6 402.4,221.0 403.2,222.1 404.0,222.2 404.8,221.3 405.6,219.1 406.4,217.2 407.1,219.0 407.9,216.5" fill="none" stroke="#eebb74" stroke-width="2.70" stroke-linejoin="round" stroke-linecap="round"/>
<polyline points="407.9,216.5 408.6,216.2 409.4,216.4 410.2,215.8 411.0,214.4 411.9,212.5 412.8,212.0 413.6,214.1 414.5,215.0" fill="none" stroke="#eebb74" stroke-width="2.70" stroke-linejoin="round" stroke-linecap="round"/>
<polyline points="414.5,215.0 415.4,217.3 416.3,218.6 417.2,218.3 418.1,216.2 418.9,214.7 419.6,215.5 420.4,215.4 421.1,213.2" fill="none" stroke="#eebb74" stroke-width="2.70" stroke-linejoin="round" stroke-linecap="round"/>
<polyline points="421.1,213.2 421.9,213.2 422.6,212.1 423.4,210.1 424.1,210.8 424.9,210.6 425.6,210.0 426.4,211.1 427.1,210.2" fill="none" stroke="#eebb74" stroke-width="2.70" stroke-linejoin="round" stroke-linecap="round"/>
<polyline points="427.1,210.2 427.9,209.6 428.6,208.0 429.4,205.5 430.1,205.4 430.8,204.8 431.6,203.5 432.3,200.7 433.0,200.7" fill="none" stroke="#eebb74" stroke-width="2.70" stroke-linejoin="round" stroke-linecap="round"/>
<polyline points="433.0,200.7 433.8,201.8 434.6,200.5 435.4,199.5 436.3,195.9 437.2,195.3 438.4,200.7 439.3,204.1 440.2,204.2" fill="none" stroke="#eebb74" stroke-width="2.70" stroke-linejoin="round" stroke-linecap="round"/>
<polyline points="440.2,204.2 441.1,201.7 442.0,201.8 443.2,204.2 444.1,202.7 445.0,202.4 446.2,192.3 447.4,189.9 448.6,184.0" fill="none" stroke="#eebb74" stroke-width="2.70" stroke-linejoin="round" stroke-linecap="round"/>
<polyline points="448.6,184.0 449.7,189.3 450.9,187.5" fill="none" stroke="#eebb74" stroke-width="2.70" stroke-linejoin="round" stroke-linecap="round"/>
<polyline points="112.6,271.3 113.5,270.4 114.3,269.8 115.2,269.2 116.0,269.2 116.8,269.3 117.7,268.9 118.5,268.6 119.3,268.7 120.0,268.4 120.7,268.6 121.4,268.2 122.1,268.6 122.8,268.5 123.5,268.2 124.2,267.8 125.0,267.8 125.7,268.0 126.4,267.7 127.1,267.7 127.9,267.2 128.6,267.2 129.3,267.1 130.0,267.3 130.8,267.8 131.5,267.6 132.2,267.9 133.0,267.6 133.8,267.5 134.5,267.3 135.3,267.2 136.0,267.4 136.7,268.0 137.5,267.7 138.2,267.9 138.9,268.5 139.7,269.1 140.4,269.3 141.2,269.6 142.0,269.5 142.8,269.3 143.6,269.4 144.5,269.2 145.3,268.5 146.1,268.5 146.8,268.6 147.6,268.6 148.3,268.5 149.1,268.3 149.8,268.1 150.6,268.1 151.3,268.2 152.4,268.5 153.4,269.2 154.2,268.6 155.0,268.7 155.9,268.3 156.7,268.4 157.5,267.9 158.3,268.0 159.1,269.1 159.8,269.4 160.6,269.7 161.5,270.5 162.3,271.0 163.2,271.3 163.9,271.4 164.6,271.0 165.4,270.4 166.1,270.7 166.8,270.3 167.5,269.9 168.3,269.8 169.0,269.9 169.7,269.7 170.4,269.5 171.2,269.7 171.9,269.2 172.7,269.2 173.4,268.8 174.2,268.7 175.0,269.0 175.8,268.6 176.6,268.6 177.3,268.2 178.1,268.2 178.9,268.0 179.7,268.1 180.4,268.3 181.2,267.8 182.0,268.2 182.8,268.3 183.5,268.2 184.3,267.9 185.1,268.1 185.9,267.5 186.6,267.8 187.4,268.0 188.2,267.3 188.9,267.4 189.7,267.4 190.5,267.5 191.3,266.9 192.1,266.2 192.8,265.7 193.6,265.1 194.4,265.0 195.1,264.1 195.9,263.8 196.7,263.8 197.5,263.7 198.2,263.9 199.0,264.1 199.8,264.6 200.6,265.1 201.3,265.2 202.1,264.9 202.8,265.4 203.5,265.1 204.3,264.6 205.0,264.4 205.7,264.0 206.4,263.7 207.2,263.7 207.9,263.3 208.6,263.0 209.3,263.3 210.0,263.5 210.8,264.0 211.5,264.3 212.2,264.9 212.9,265.1 213.6,265.4 214.4,265.3 215.1,265.2 215.8,265.7 216.5,265.2 217.2,265.1 218.0,265.0 218.7,264.9 219.4,264.4 220.2,263.8 221.1,263.7 221.9,263.0 222.8,262.4 223.6,262.0 224.4,261.7 225.2,261.6 226.1,261.6 226.9,261.1 227.7,261.0 228.4,261.0 229.2,260.7 229.9,260.4 230.6,260.5 231.3,260.4 232.1,259.8 232.8,260.0 233.6,260.3 234.4,260.7 235.1,261.5 235.9,261.6 236.7,262.3 237.5,262.3 238.2,261.7 238.9,261.6 239.7,261.0 240.4,260.0 241.1,259.7 241.9,259.6 242.7,259.2 243.6,259.7 244.4,259.4 245.2,259.2 246.0,259.2 246.8,258.7 247.5,258.2 248.3,257.7 249.4,259.4 250.4,260.6 251.2,259.7 251.9,258.2 252.7,257.7 253.5,256.6 254.5,256.1 255.5,256.6 256.4,257.0 257.2,258.4 258.1,258.9 258.8,259.0 259.5,259.5 260.3,260.0 261.0,261.1 261.7,261.3 262.4,261.0 263.2,260.8 263.9,261.4 264.7,260.7 265.4,261.2 266.2,261.0 266.9,260.8 267.7,260.8 268.5,260.7 269.4,260.1 270.2,260.0 271.0,259.5 272.0,258.1 273.0,257.5 273.8,257.8 274.7,257.7 275.5,257.9 276.4,257.4 277.2,257.9 278.0,257.9 278.8,257.8 279.7,256.7 280.5,256.7 281.3,256.6 282.1,256.4 282.9,256.3 283.8,255.4 284.6,255.1 285.4,255.1 286.1,255.3 286.8,256.1 287.6,256.6 288.3,256.7 289.0,257.2 289.7,256.7 290.4,256.5 291.2,256.1 291.9,255.8 292.6,255.6 293.4,254.7 294.1,254.7 294.9,254.8 295.7,253.8 296.4,253.8 297.1,254.3 297.9,253.8 298.6,254.5 299.3,254.7 300.0,254.5 300.7,254.8 301.4,254.8 302.1,254.8 302.9,255.1 303.6,255.5 304.3,255.2 305.1,254.5 305.8,254.2 306.6,254.6 307.3,254.6 308.1,253.8 308.9,253.2 309.7,252.6 310.5,252.3 311.3,251.5 312.1,251.5 312.9,252.0 313.7,252.3 314.5,253.1 315.3,252.8 316.0,252.0 316.8,251.4 317.5,251.6 318.3,250.9 319.4,249.7 320.4,247.2 321.3,246.2 322.2,246.1 323.1,245.0 323.9,244.8 324.6,245.4 325.4,244.8 326.1,244.2 326.9,244.5 327.7,245.7 328.5,247.7 329.4,246.5 330.2,246.7 331.1,246.3 331.8,247.1 332.6,247.8 333.3,249.3 334.2,250.2 335.1,251.3 336.0,252.6 336.9,252.2 337.8,250.7 338.7,250.4 339.5,250.7 340.3,249.6 341.1,249.3 341.9,248.8 342.6,249.5 343.3,250.6 344.0,250.9 344.7,250.7 345.5,249.8 346.2,249.1 346.9,249.6 347.6,250.4 348.4,251.0 349.1,250.9 349.8,251.8 350.5,252.0 351.3,251.9 352.1,250.6 352.9,249.6 353.7,249.3 354.4,249.8 355.2,251.4 355.9,252.0 356.8,252.4 357.6,253.0 358.5,252.6 359.2,251.1 360.0,248.2 360.7,246.6 361.4,246.0 362.2,246.0 362.9,245.8 363.7,246.5 364.4,246.1 365.1,245.4 365.9,244.3 366.6,242.4 367.4,242.0 368.2,243.0 369.0,242.1 369.8,242.4 370.6,242.0 371.4,242.3 372.2,240.8 373.0,241.3 373.9,235.9 374.7,232.1 375.5,234.4 376.3,235.2 377.2,235.7 378.1,237.0 379.0,235.5 379.9,234.6 380.7,233.2 381.5,231.8 382.3,229.8 383.1,226.4 383.9,225.0 384.7,223.3 385.6,222.5 386.5,222.1 387.4,223.3 388.3,224.5 389.5,228.6 390.7,231.0 391.8,235.8 393.0,233.4 393.8,232.2 394.6,232.4 395.4,231.6 396.2,231.5 397.0,228.9 397.8,228.0 398.6,226.1 399.4,223.1 400.2,222.1 400.9,221.5 401.7,222.6 402.4,221.0 403.2,222.1 404.0,222.2 404.8,221.3 405.6,219.1 406.4,217.2 407.1,219.0 407.9,216.5 408.6,216.2 409.4,216.4 410.2,215.8 411.0,214.4 411.9,212.5 412.8,212.0 413.6,214.1 414.5,215.0 415.4,217.3 416.3,218.6 417.2,218.3 418.1,216.2 418.9,214.7 419.6,215.5 420.4,215.4 421.1,213.2 421.9,213.2 422.6,212.1 423.4,210.1 424.1,210.8 424.9,210.6 425.6,210.0 426.4,211.1 427.1,210.2 427.9,209.6 428.6,208.0 429.4,205.5 430.1,205.4 430.8,204.8 431.6,203.5 432.3,200.7 433.0,200.7 433.8,201.8 434.6,200.5 435.4,199.5 436.3,195.9 437.2,195.3 438.4,200.7 439.3,204.1 440.2,204.2 441.1,201.7 442.0,201.8 443.2,204.2 444.1,202.7 445.0,202.4 446.2,192.3 447.4,189.9 448.6,184.0 449.7,189.3 450.9,187.5" fill="none" stroke="#a97538" stroke-width="1.1" stroke-linejoin="round"/>
<polyline points="565.7,272.3 566.5,272.3 567.2,272.1 568.0,272.0 568.8,271.9 569.5,271.7 570.3,271.6 571.0,271.5 571.7,271.3" fill="none" stroke="#eebb74" stroke-width="1.50" stroke-linejoin="round" stroke-linecap="round"/>
<polyline points="571.7,271.3 572.5,271.3 573.2,271.7 573.9,271.7 574.6,271.6 575.3,271.7 576.0,271.4 576.8,271.3 577.5,271.4" fill="none" stroke="#eebb74" stroke-width="1.50" stroke-linejoin="round" stroke-linecap="round"/>
<polyline points="577.5,271.4 578.2,271.7 578.9,271.1 579.6,271.4 580.3,271.2 581.1,271.6 581.8,271.3 582.5,271.3 583.2,271.3" fill="none" stroke="#eebb74" stroke-width="1.50" stroke-linejoin="round" stroke-linecap="round"/>
<polyline points="583.2,271.3 583.9,271.4 584.6,271.5 585.4,271.2 586.1,271.6 586.8,271.3 587.6,270.5 588.3,270.1 589.1,269.4" fill="none" stroke="#eebb74" stroke-width="1.50" stroke-linejoin="round" stroke-linecap="round"/>
<polyline points="589.1,269.4 589.9,269.2 590.7,268.7 591.5,269.0 592.4,268.8 593.2,268.2 594.0,268.2 594.8,268.1 595.5,268.4" fill="none" stroke="#eebb74" stroke-width="1.50" stroke-linejoin="round" stroke-linecap="round"/>
<polyline points="595.5,268.4 596.3,268.7 597.1,268.7 597.9,268.6 598.7,268.3 599.6,267.9 600.4,267.3 601.2,267.2 602.0,267.3" fill="none" stroke="#eebb74" stroke-width="1.50" stroke-linejoin="round" stroke-linecap="round"/>
<polyline points="602.0,267.3 602.9,267.4 603.7,267.8 604.6,268.0 605.4,268.2 606.2,267.7 607.0,267.5 607.7,267.6 608.5,267.2" fill="none" stroke="#eebb74" stroke-width="1.50" stroke-linejoin="round" stroke-linecap="round"/>
<polyline points="608.5,267.2 609.2,267.1 610.0,267.9 610.8,268.2 611.5,268.2 612.2,268.7 612.9,268.5 613.6,268.7 614.3,268.9" fill="none" stroke="#eebb74" stroke-width="1.50" stroke-linejoin="round" stroke-linecap="round"/>
<polyline points="614.3,268.9 615.0,269.1 615.7,269.2 616.5,269.3 617.3,268.9 618.2,268.5 619.0,268.7 619.8,268.2 620.6,268.1" fill="none" stroke="#eebb74" stroke-width="1.50" stroke-linejoin="round" stroke-linecap="round"/>
<polyline points="620.6,268.1 621.3,268.1 622.1,268.2 622.9,267.6 623.7,268.1 624.5,267.9 625.2,267.8 626.0,267.7 626.8,267.7" fill="none" stroke="#eebb74" stroke-width="1.50" stroke-linejoin="round" stroke-linecap="round"/>
<polyline points="626.8,267.7 627.6,267.6 628.5,267.4 629.3,267.6 630.1,267.5 630.9,267.5 631.7,268.1 632.4,268.5 633.2,268.7" fill="none" stroke="#eebb74" stroke-width="1.50" stroke-linejoin="round" stroke-linecap="round"/>
<polyline points="633.2,268.7 634.0,269.2 634.8,269.8 635.5,270.6 636.3,270.8 637.0,270.9 637.8,270.2 638.5,270.5 639.2,270.3" fill="none" stroke="#eebb74" stroke-width="1.50" stroke-linejoin="round" stroke-linecap="round"/>
<polyline points="639.2,270.3 639.9,269.7 640.7,269.8 641.4,269.7 642.1,269.4 642.8,269.1 643.5,269.3 644.2,269.5 644.9,268.9" fill="none" stroke="#eebb74" stroke-width="1.50" stroke-linejoin="round" stroke-linecap="round"/>
<polyline points="644.9,268.9 645.6,268.9 646.3,269.0 647.1,268.7 647.8,268.1 648.5,268.5 649.2,268.1 650.0,268.2 650.7,267.7" fill="none" stroke="#eebb74" stroke-width="1.50" stroke-linejoin="round" stroke-linecap="round"/>
<polyline points="650.7,267.7 651.5,268.0 652.3,268.1 653.2,267.9 654.0,268.3 654.8,268.2 655.5,268.4 656.3,268.2 657.0,267.8" fill="none" stroke="#eebb74" stroke-width="1.50" stroke-linejoin="round" stroke-linecap="round"/>
<polyline points="657.0,267.8 657.8,267.9 658.5,267.6 659.3,267.2 660.0,267.4 660.7,267.0 661.4,267.0 662.1,267.0 662.9,267.0" fill="none" stroke="#eebb74" stroke-width="1.50" stroke-linejoin="round" stroke-linecap="round"/>
<polyline points="662.9,267.0 663.6,267.1 664.3,267.1 665.1,266.7 665.9,266.0 666.7,265.4 667.5,264.9 668.3,264.7 669.1,264.2" fill="none" stroke="#eebb74" stroke-width="1.50" stroke-linejoin="round" stroke-linecap="round"/>
<polyline points="669.1,264.2 669.9,264.1 670.7,263.8 671.5,264.1 672.4,264.0 673.2,264.0 674.0,264.4 674.8,264.9 675.6,265.1" fill="none" stroke="#eebb74" stroke-width="1.50" stroke-linejoin="round" stroke-linecap="round"/>
<polyline points="675.6,265.1 676.4,265.1 677.2,265.4 678.0,265.0 678.8,264.7 679.6,264.4 680.4,263.8 681.2,263.3 682.0,263.3" fill="none" stroke="#eebb74" stroke-width="1.50" stroke-linejoin="round" stroke-linecap="round"/>
<polyline points="682.0,263.3 682.8,263.4 683.5,264.1 684.3,264.0 685.0,264.6 685.8,264.9 686.5,264.9 687.3,265.1 688.0,265.3" fill="none" stroke="#eebb74" stroke-width="1.50" stroke-linejoin="round" stroke-linecap="round"/>
<polyline points="688.0,265.3 688.8,265.7 689.5,266.0 690.4,265.2 691.3,264.6 692.2,264.4 692.9,263.7 693.6,263.3 694.4,263.0" fill="none" stroke="#eebb74" stroke-width="1.50" stroke-linejoin="round" stroke-linecap="round"/>
<polyline points="694.4,263.0 695.1,262.3 695.8,261.8 696.5,261.7 697.2,261.6 697.9,261.4 698.6,261.6 699.4,260.9 700.1,261.1" fill="none" stroke="#eebb74" stroke-width="1.50" stroke-linejoin="round" stroke-linecap="round"/>
<polyline points="700.1,261.1 700.8,261.1 701.5,260.9 702.2,260.4 703.0,261.0 703.7,260.2 704.4,259.9 705.1,260.1 705.9,260.3" fill="none" stroke="#eebb74" stroke-width="1.50" stroke-linejoin="round" stroke-linecap="round"/>
<polyline points="705.9,260.3 706.7,260.3 707.5,260.9 708.3,261.1 709.0,261.3 709.8,261.5 710.5,262.2 711.3,261.3 712.1,261.3" fill="none" stroke="#eebb74" stroke-width="1.50" stroke-linejoin="round" stroke-linecap="round"/>
<polyline points="712.1,261.3 712.9,260.4 713.7,260.1 714.5,260.1 715.3,259.5 716.1,259.7 716.9,259.0 717.8,259.0 718.7,259.1" fill="none" stroke="#eebb74" stroke-width="1.50" stroke-linejoin="round" stroke-linecap="round"/>
<polyline points="718.7,259.1 719.6,259.5 720.5,258.6 721.4,258.4 722.3,257.4 723.0,258.6 723.7,259.4 724.4,260.6 725.2,258.6" fill="none" stroke="#eebb74" stroke-width="1.50" stroke-linejoin="round" stroke-linecap="round"/>
<polyline points="725.2,258.6 726.1,257.4 726.8,257.2 727.5,257.1 728.2,256.3 728.9,256.8 729.7,256.5 730.4,257.4 731.2,257.5" fill="none" stroke="#eebb74" stroke-width="1.53" stroke-linejoin="round" stroke-linecap="round"/>
<polyline points="731.2,257.5 732.0,258.5 732.8,258.8 733.6,259.5 734.4,260.1 735.2,261.1 735.9,260.7 736.6,261.1 737.4,261.2" fill="none" stroke="#eebb74" stroke-width="1.50" stroke-linejoin="round" stroke-linecap="round"/>
<polyline points="737.4,261.2 738.1,260.5 738.8,261.1 739.5,260.6 740.3,260.6 741.1,260.8 741.9,260.9 742.7,260.6 743.5,259.9" fill="none" stroke="#eebb74" stroke-width="1.50" stroke-linejoin="round" stroke-linecap="round"/>
<polyline points="743.5,259.9 744.3,258.5 745.1,258.9 745.9,260.1 747.0,257.4 747.7,257.2 748.4,257.5 749.1,257.8 749.9,257.0" fill="none" stroke="#eebb74" stroke-width="1.50" stroke-linejoin="round" stroke-linecap="round"/>
<polyline points="749.9,257.0 750.6,257.2 751.3,257.4 752.0,257.5 752.8,256.6 753.5,256.6 754.3,256.4 755.0,256.3 755.7,256.2" fill="none" stroke="#eebb74" stroke-width="1.55" stroke-linejoin="round" stroke-linecap="round"/>
<polyline points="755.7,256.2 756.4,256.1 757.2,255.0 757.9,255.3 758.6,254.7 759.4,255.5 760.2,256.2 761.1,256.5 761.9,257.4" fill="none" stroke="#eebb74" stroke-width="1.58" stroke-linejoin="round" stroke-linecap="round"/>
<polyline points="761.9,257.4 762.7,257.6 763.6,256.8 764.4,256.2 765.3,255.6 766.1,255.0 766.9,255.2 767.8,254.6 768.6,254.0" fill="none" stroke="#eebb74" stroke-width="1.59" stroke-linejoin="round" stroke-linecap="round"/>
<polyline points="768.6,254.0 769.4,253.9 770.1,253.6 770.8,254.4 771.5,254.3 772.2,254.5 772.9,254.3 773.6,254.5 774.4,254.5" fill="none" stroke="#eebb74" stroke-width="1.65" stroke-linejoin="round" stroke-linecap="round"/>
<polyline points="774.4,254.5 775.2,254.2 776.1,254.9 776.9,254.1 777.7,254.7 778.5,254.5 779.3,254.6 780.2,254.3 781.0,253.4" fill="none" stroke="#eebb74" stroke-width="1.65" stroke-linejoin="round" stroke-linecap="round"/>
<polyline points="781.0,253.4 781.8,253.7 782.6,252.8 783.3,253.0 784.1,252.2 784.9,251.4 785.7,252.3 786.5,252.8 787.2,252.7" fill="none" stroke="#eebb74" stroke-width="1.71" stroke-linejoin="round" stroke-linecap="round"/>
<polyline points="787.2,252.7 788.0,253.2 788.8,253.2 789.6,252.4 790.5,251.4 791.3,251.0 792.1,250.6 792.8,249.0 793.5,248.4" fill="none" stroke="#eebb74" stroke-width="1.77" stroke-linejoin="round" stroke-linecap="round"/>
<polyline points="793.5,248.4 794.2,247.5 795.1,247.3 795.9,245.1 796.8,244.9 797.5,244.9 798.2,244.1 799.0,243.9 799.7,244.7" fill="none" stroke="#eebb74" stroke-width="1.99" stroke-linejoin="round" stroke-linecap="round"/>
<polyline points="799.7,244.7 800.4,244.4 801.4,245.8 802.4,248.0 803.3,246.8 804.1,246.5 805.0,246.5 805.8,247.7 806.5,248.5" fill="none" stroke="#eebb74" stroke-width="1.96" stroke-linejoin="round" stroke-linecap="round"/>
<polyline points="806.5,248.5 807.3,248.7 808.1,249.9 808.8,251.9 809.6,252.2 810.4,251.4 811.3,251.4 812.1,250.8 813.0,250.9" fill="none" stroke="#eebb74" stroke-width="1.79" stroke-linejoin="round" stroke-linecap="round"/>
<polyline points="813.0,250.9 813.8,250.1 814.6,249.5 815.5,249.1 816.3,248.0 817.1,249.3 817.9,250.6 818.6,249.6 819.3,249.0" fill="none" stroke="#eebb74" stroke-width="1.84" stroke-linejoin="round" stroke-linecap="round"/>
<polyline points="819.3,249.0 820.0,248.8 820.8,248.9 821.5,250.5 822.3,250.2 823.1,250.8 823.8,252.6 824.6,252.7 825.5,251.2" fill="none" stroke="#eebb74" stroke-width="1.80" stroke-linejoin="round" stroke-linecap="round"/>
<polyline points="825.5,251.2 826.3,251.0 827.2,249.4 828.2,250.0 829.2,251.6 830.1,251.9 830.9,252.0 831.8,252.7 832.5,250.9" fill="none" stroke="#eebb74" stroke-width="1.77" stroke-linejoin="round" stroke-linecap="round"/>
<polyline points="832.5,250.9 833.2,248.4 833.9,246.0 834.6,246.4 835.3,246.8 836.1,247.2 836.8,246.6 837.5,247.0 838.3,245.6" fill="none" stroke="#eebb74" stroke-width="1.93" stroke-linejoin="round" stroke-linecap="round"/>
<polyline points="838.3,245.6 839.0,243.8 839.8,241.7 840.6,240.8 841.4,241.8 842.2,241.8 842.9,242.6 843.7,242.4 844.5,241.5" fill="none" stroke="#eebb74" stroke-width="2.12" stroke-linejoin="round" stroke-linecap="round"/>
<polyline points="844.5,241.5 845.2,241.7 846.0,241.1 846.8,240.8 847.7,237.1 848.6,232.5 849.9,235.2 850.8,235.2 851.7,237.0" fill="none" stroke="#eebb74" stroke-width="2.30" stroke-linejoin="round" stroke-linecap="round"/>
<polyline points="851.7,237.0 852.5,236.1 853.3,235.8 854.1,235.2 854.9,231.9 855.7,230.5 856.5,228.0 857.4,226.6 858.3,223.9" fill="none" stroke="#eebb74" stroke-width="2.55" stroke-linejoin="round" stroke-linecap="round"/>
<polyline points="858.3,223.9 859.1,223.7 859.9,224.3 860.7,223.9 861.5,225.1 862.4,225.7 863.3,228.9 864.2,233.4 865.4,240.6" fill="none" stroke="#eebb74" stroke-width="2.70" stroke-linejoin="round" stroke-linecap="round"/>
<polyline points="865.4,240.6 866.3,237.6 867.2,235.2 868.0,235.1 868.8,232.4 869.6,231.6 870.4,230.0 871.2,227.8 872.0,227.4" fill="none" stroke="#eebb74" stroke-width="2.50" stroke-linejoin="round" stroke-linecap="round"/>
<polyline points="872.0,227.4 872.8,224.7 873.6,222.6 874.4,221.5 875.1,222.4 875.9,221.5 876.6,221.7 877.4,220.3 878.1,220.9" fill="none" stroke="#eebb74" stroke-width="2.70" stroke-linejoin="round" stroke-linecap="round"/>
<polyline points="878.1,220.9 878.8,219.1 879.6,219.3 880.3,217.3 881.2,217.0 882.1,216.3 883.0,216.2 883.8,216.5 884.5,215.4" fill="none" stroke="#eebb74" stroke-width="2.70" stroke-linejoin="round" stroke-linecap="round"/>
<polyline points="884.5,215.4 885.2,214.5 886.0,212.0 886.9,213.4 887.8,215.0 888.6,217.9 889.5,219.2 890.3,218.3 891.1,219.5" fill="none" stroke="#eebb74" stroke-width="2.70" stroke-linejoin="round" stroke-linecap="round"/>
<polyline points="891.1,219.5 891.9,217.4 892.6,217.8 893.3,215.1 894.1,216.2 894.8,213.0 895.5,213.2 896.2,211.4 896.9,213.0" fill="none" stroke="#eebb74" stroke-width="2.70" stroke-linejoin="round" stroke-linecap="round"/>
<polyline points="896.9,213.0 897.7,211.1 898.4,211.3 899.1,210.8 899.9,210.7 900.6,208.1 901.4,209.8 902.1,208.4 902.9,206.4" fill="none" stroke="#eebb74" stroke-width="2.70" stroke-linejoin="round" stroke-linecap="round"/>
<polyline points="902.9,206.4 903.6,205.8 904.4,204.2 905.1,203.6 905.9,202.7 906.6,201.0 907.4,198.3 908.3,198.7 909.2,200.7" fill="none" stroke="#eebb74" stroke-width="2.70" stroke-linejoin="round" stroke-linecap="round"/>
<polyline points="909.2,200.7 910.1,196.4 911.0,195.3 911.9,197.8 912.8,201.8 913.7,203.0 914.6,204.8 915.5,202.0 916.4,202.4" fill="none" stroke="#eebb74" stroke-width="2.70" stroke-linejoin="round" stroke-linecap="round"/>
<polyline points="916.4,202.4 917.3,201.7 918.2,203.6 919.4,198.9 920.3,195.8 921.2,190.5 922.4,184.0 923.6,188.1 924.8,186.9" fill="none" stroke="#eebb74" stroke-width="2.70" stroke-linejoin="round" stroke-linecap="round"/>
<polyline points="565.7,272.3 566.5,272.3 567.2,272.1 568.0,272.0 568.8,271.9 569.5,271.7 570.3,271.6 571.0,271.5 571.7,271.3 572.5,271.3 573.2,271.7 573.9,271.7 574.6,271.6 575.3,271.7 576.0,271.4 576.8,271.3 577.5,271.4 578.2,271.7 578.9,271.1 579.6,271.4 580.3,271.2 581.1,271.6 581.8,271.3 582.5,271.3 583.2,271.3 583.9,271.4 584.6,271.5 585.4,271.2 586.1,271.6 586.8,271.3 587.6,270.5 588.3,270.1 589.1,269.4 589.9,269.2 590.7,268.7 591.5,269.0 592.4,268.8 593.2,268.2 594.0,268.2 594.8,268.1 595.5,268.4 596.3,268.7 597.1,268.7 597.9,268.6 598.7,268.3 599.6,267.9 600.4,267.3 601.2,267.2 602.0,267.3 602.9,267.4 603.7,267.8 604.6,268.0 605.4,268.2 606.2,267.7 607.0,267.5 607.7,267.6 608.5,267.2 609.2,267.1 610.0,267.9 610.8,268.2 611.5,268.2 612.2,268.7 612.9,268.5 613.6,268.7 614.3,268.9 615.0,269.1 615.7,269.2 616.5,269.3 617.3,268.9 618.2,268.5 619.0,268.7 619.8,268.2 620.6,268.1 621.3,268.1 622.1,268.2 622.9,267.6 623.7,268.1 624.5,267.9 625.2,267.8 626.0,267.7 626.8,267.7 627.6,267.6 628.5,267.4 629.3,267.6 630.1,267.5 630.9,267.5 631.7,268.1 632.4,268.5 633.2,268.7 634.0,269.2 634.8,269.8 635.5,270.6 636.3,270.8 637.0,270.9 637.8,270.2 638.5,270.5 639.2,270.3 639.9,269.7 640.7,269.8 641.4,269.7 642.1,269.4 642.8,269.1 643.5,269.3 644.2,269.5 644.9,268.9 645.6,268.9 646.3,269.0 647.1,268.7 647.8,268.1 648.5,268.5 649.2,268.1 650.0,268.2 650.7,267.7 651.5,268.0 652.3,268.1 653.2,267.9 654.0,268.3 654.8,268.2 655.5,268.4 656.3,268.2 657.0,267.8 657.8,267.9 658.5,267.6 659.3,267.2 660.0,267.4 660.7,267.0 661.4,267.0 662.1,267.0 662.9,267.0 663.6,267.1 664.3,267.1 665.1,266.7 665.9,266.0 666.7,265.4 667.5,264.9 668.3,264.7 669.1,264.2 669.9,264.1 670.7,263.8 671.5,264.1 672.4,264.0 673.2,264.0 674.0,264.4 674.8,264.9 675.6,265.1 676.4,265.1 677.2,265.4 678.0,265.0 678.8,264.7 679.6,264.4 680.4,263.8 681.2,263.3 682.0,263.3 682.8,263.4 683.5,264.1 684.3,264.0 685.0,264.6 685.8,264.9 686.5,264.9 687.3,265.1 688.0,265.3 688.8,265.7 689.5,266.0 690.4,265.2 691.3,264.6 692.2,264.4 692.9,263.7 693.6,263.3 694.4,263.0 695.1,262.3 695.8,261.8 696.5,261.7 697.2,261.6 697.9,261.4 698.6,261.6 699.4,260.9 700.1,261.1 700.8,261.1 701.5,260.9 702.2,260.4 703.0,261.0 703.7,260.2 704.4,259.9 705.1,260.1 705.9,260.3 706.7,260.3 707.5,260.9 708.3,261.1 709.0,261.3 709.8,261.5 710.5,262.2 711.3,261.3 712.1,261.3 712.9,260.4 713.7,260.1 714.5,260.1 715.3,259.5 716.1,259.7 716.9,259.0 717.8,259.0 718.7,259.1 719.6,259.5 720.5,258.6 721.4,258.4 722.3,257.4 723.0,258.6 723.7,259.4 724.4,260.6 725.2,258.6 726.1,257.4 726.8,257.2 727.5,257.1 728.2,256.3 728.9,256.8 729.7,256.5 730.4,257.4 731.2,257.5 732.0,258.5 732.8,258.8 733.6,259.5 734.4,260.1 735.2,261.1 735.9,260.7 736.6,261.1 737.4,261.2 738.1,260.5 738.8,261.1 739.5,260.6 740.3,260.6 741.1,260.8 741.9,260.9 742.7,260.6 743.5,259.9 744.3,258.5 745.1,258.9 745.9,260.1 747.0,257.4 747.7,257.2 748.4,257.5 749.1,257.8 749.9,257.0 750.6,257.2 751.3,257.4 752.0,257.5 752.8,256.6 753.5,256.6 754.3,256.4 755.0,256.3 755.7,256.2 756.4,256.1 757.2,255.0 757.9,255.3 758.6,254.7 759.4,255.5 760.2,256.2 761.1,256.5 761.9,257.4 762.7,257.6 763.6,256.8 764.4,256.2 765.3,255.6 766.1,255.0 766.9,255.2 767.8,254.6 768.6,254.0 769.4,253.9 770.1,253.6 770.8,254.4 771.5,254.3 772.2,254.5 772.9,254.3 773.6,254.5 774.4,254.5 775.2,254.2 776.1,254.9 776.9,254.1 777.7,254.7 778.5,254.5 779.3,254.6 780.2,254.3 781.0,253.4 781.8,253.7 782.6,252.8 783.3,253.0 784.1,252.2 784.9,251.4 785.7,252.3 786.5,252.8 787.2,252.7 788.0,253.2 788.8,253.2 789.6,252.4 790.5,251.4 791.3,251.0 792.1,250.6 792.8,249.0 793.5,248.4 794.2,247.5 795.1,247.3 795.9,245.1 796.8,244.9 797.5,244.9 798.2,244.1 799.0,243.9 799.7,244.7 800.4,244.4 801.4,245.8 802.4,248.0 803.3,246.8 804.1,246.5 805.0,246.5 805.8,247.7 806.5,248.5 807.3,248.7 808.1,249.9 808.8,251.9 809.6,252.2 810.4,251.4 811.3,251.4 812.1,250.8 813.0,250.9 813.8,250.1 814.6,249.5 815.5,249.1 816.3,248.0 817.1,249.3 817.9,250.6 818.6,249.6 819.3,249.0 820.0,248.8 820.8,248.9 821.5,250.5 822.3,250.2 823.1,250.8 823.8,252.6 824.6,252.7 825.5,251.2 826.3,251.0 827.2,249.4 828.2,250.0 829.2,251.6 830.1,251.9 830.9,252.0 831.8,252.7 832.5,250.9 833.2,248.4 833.9,246.0 834.6,246.4 835.3,246.8 836.1,247.2 836.8,246.6 837.5,247.0 838.3,245.6 839.0,243.8 839.8,241.7 840.6,240.8 841.4,241.8 842.2,241.8 842.9,242.6 843.7,242.4 844.5,241.5 845.2,241.7 846.0,241.1 846.8,240.8 847.7,237.1 848.6,232.5 849.9,235.2 850.8,235.2 851.7,237.0 852.5,236.1 853.3,235.8 854.1,235.2 854.9,231.9 855.7,230.5 856.5,228.0 857.4,226.6 858.3,223.9 859.1,223.7 859.9,224.3 860.7,223.9 861.5,225.1 862.4,225.7 863.3,228.9 864.2,233.4 865.4,240.6 866.3,237.6 867.2,235.2 868.0,235.1 868.8,232.4 869.6,231.6 870.4,230.0 871.2,227.8 872.0,227.4 872.8,224.7 873.6,222.6 874.4,221.5 875.1,222.4 875.9,221.5 876.6,221.7 877.4,220.3 878.1,220.9 878.8,219.1 879.6,219.3 880.3,217.3 881.2,217.0 882.1,216.3 883.0,216.2 883.8,216.5 884.5,215.4 885.2,214.5 886.0,212.0 886.9,213.4 887.8,215.0 888.6,217.9 889.5,219.2 890.3,218.3 891.1,219.5 891.9,217.4 892.6,217.8 893.3,215.1 894.1,216.2 894.8,213.0 895.5,213.2 896.2,211.4 896.9,213.0 897.7,211.1 898.4,211.3 899.1,210.8 899.9,210.7 900.6,208.1 901.4,209.8 902.1,208.4 902.9,206.4 903.6,205.8 904.4,204.2 905.1,203.6 905.9,202.7 906.6,201.0 907.4,198.3 908.3,198.7 909.2,200.7 910.1,196.4 911.0,195.3 911.9,197.8 912.8,201.8 913.7,203.0 914.6,204.8 915.5,202.0 916.4,202.4 917.3,201.7 918.2,203.6 919.4,198.9 920.3,195.8 921.2,190.5 922.4,184.0 923.6,188.1 924.8,186.9" fill="none" stroke="#a97538" stroke-width="1.1" stroke-linejoin="round"/>
<text x="259.65" y="34.5" font-size="15.9" font-family="Liberation Sans" fill="#000" textLength="24.7" lengthAdjust="spacingAndGlyphs">ACI</text>
<text x="668.95" y="34.5" font-size="15.9" font-family="Liberation Sans" fill="#000" textLength="152.07" lengthAdjust="spacingAndGlyphs">Conformal P Control</text>
<text x="489.75" y="330.7" font-size="15.6" font-family="Liberation Sans" fill="#000" textLength="37.28" lengthAdjust="spacingAndGlyphs">Time</text>
<text x="40.55" y="46.05" font-size="10.1" font-family="Liberation Sans" fill="#1a1a1a" textLength="28.23" lengthAdjust="spacingAndGlyphs">100%</text>
<text x="46.55" y="99.2" font-size="10.1" font-family="Liberation Sans" fill="#1a1a1a" textLength="22.6" lengthAdjust="spacingAndGlyphs">75%</text>
<text x="46.45" y="151.5" font-size="10.1" font-family="Liberation Sans" fill="#1a1a1a" textLength="22.0" lengthAdjust="spacingAndGlyphs">50%</text>
<text x="43.35" y="204.6" font-size="10.1" font-family="Liberation Sans" fill="#1a1a1a" textLength="25.87" lengthAdjust="spacingAndGlyphs">1000</text>
<text x="49.55" y="241.4" font-size="10.1" font-family="Liberation Sans" fill="#1a1a1a" textLength="19.44" lengthAdjust="spacingAndGlyphs">500</text>
<text x="62.85" y="278.3" font-size="10.1" font-family="Liberation Sans" fill="#1a1a1a" textLength="5.42" lengthAdjust="spacingAndGlyphs">0</text>
<text transform="translate(35.2,93) rotate(-90)" font-size="16" text-anchor="middle" font-family="Liberation Sans" fill="#000" textLength="71.5" lengthAdjust="spacingAndGlyphs">Coverage</text>
<text transform="translate(37.7,222.8) rotate(-90)" font-size="15.3" text-anchor="middle" font-family="Liberation Sans" fill="#000" textLength="32.7" lengthAdjust="spacingAndGlyphs">Sets</text>
<path d="M126.7,353.8 H839.8" stroke="#000" stroke-width="1.4"/>
<path d="M126.7,402.4 H839.8" stroke="#000" stroke-width="0.9"/>
<text x="359.85" y="373.8" font-size="16.4" font-family="Liberation Serif" fill="#000" textLength="24.38" lengthAdjust="spacingAndGlyphs">AR</text>
<text x="475.05" y="373.8" font-size="16.4" font-family="Liberation Serif" fill="#000" textLength="60.0" lengthAdjust="spacingAndGlyphs">Prophet</text>
<text x="617.75" y="373.8" font-size="16.4" font-family="Liberation Serif" fill="#000" textLength="43.91" lengthAdjust="spacingAndGlyphs">Theta</text>
<text x="729.15" y="373.8" font-size="16.4" font-family="Liberation Serif" fill="#000" textLength="88.74" lengthAdjust="spacingAndGlyphs">Transformer</text>
<text x="137.85" y="422.0" font-size="16.4" font-family="Liberation Serif" fill="#000" textLength="135.43" lengthAdjust="spacingAndGlyphs">Marginal coverage</text>
<text x="317.95" y="392.7" font-size="16.4" font-family="Liberation Serif" fill="#000" textLength="30.2" lengthAdjust="spacingAndGlyphs">ACI</text>
<text x="451.25" y="392.7" font-size="16.4" font-family="Liberation Serif" fill="#000" textLength="30.2" lengthAdjust="spacingAndGlyphs">ACI</text>
<text x="584.75" y="392.7" font-size="16.4" font-family="Liberation Serif" fill="#000" textLength="30.2" lengthAdjust="spacingAndGlyphs">ACI</text>
<text x="718.25" y="392.7" font-size="16.4" font-family="Liberation Serif" fill="#000" textLength="30.2" lengthAdjust="spacingAndGlyphs">ACI</text>
<text x="378.75" y="392.7" font-size="16.4" font-family="Liberation Serif" fill="#000" textLength="11.33" lengthAdjust="spacingAndGlyphs">P</text>
<text x="396.25" y="392.7" font-size="16.4" font-family="Liberation Serif" fill="#000" textLength="31.3" lengthAdjust="spacingAndGlyphs">Ctrl</text>
<text x="512.15" y="392.7" font-size="16.4" font-family="Liberation Serif" fill="#000" textLength="11.33" lengthAdjust="spacingAndGlyphs">P</text>
<text x="529.65" y="392.7" font-size="16.4" font-family="Liberation Serif" fill="#000" textLength="31.3" lengthAdjust="spacingAndGlyphs">Ctrl</text>
<text x="646.45" y="392.7" font-size="16.4" font-family="Liberation Serif" fill="#000" textLength="11.33" lengthAdjust="spacingAndGlyphs">P</text>
<text x="663.95" y="392.7" font-size="16.4" font-family="Liberation Serif" fill="#000" textLength="31.3" lengthAdjust="spacingAndGlyphs">Ctrl</text>
<text x="779.55" y="392.7" font-size="16.4" font-family="Liberation Serif" fill="#000" textLength="11.33" lengthAdjust="spacingAndGlyphs">P</text>
<text x="797.05" y="392.7" font-size="16.4" font-family="Liberation Serif" fill="#000" textLength="31.3" lengthAdjust="spacingAndGlyphs">Ctrl</text>
<text x="317.05" y="422.0" font-size="16.4" font-family="Liberation Serif" fill="#000" textLength="37.3" lengthAdjust="spacingAndGlyphs">0.894</text>
<text x="379.75" y="422.0" font-size="16.4" font-family="Liberation Serif" fill="#000" textLength="37.3" lengthAdjust="spacingAndGlyphs">0.894</text>
<text x="450.45" y="422.0" font-size="16.4" font-family="Liberation Serif" fill="#000" textLength="37.3" lengthAdjust="spacingAndGlyphs">0.904</text>
<text x="513.15" y="422.0" font-size="16.4" font-family="Liberation Serif" fill="#000" textLength="37.3" lengthAdjust="spacingAndGlyphs">0.888</text>
<text x="584.35" y="422.0" font-size="16.4" font-family="Liberation Serif" fill="#000" textLength="37.3" lengthAdjust="spacingAndGlyphs">0.895</text>
<text x="647.05" y="422.0" font-size="16.4" font-family="Liberation Serif" fill="#000" textLength="37.3" lengthAdjust="spacingAndGlyphs">0.894</text>
<text x="717.95" y="422.0" font-size="16.4" font-family="Liberation Serif" fill="#000" textLength="37.3" lengthAdjust="spacingAndGlyphs">0.906</text>
<text x="780.55" y="422.0" font-size="16.4" font-family="Liberation Serif" fill="#000" textLength="37.3" lengthAdjust="spacingAndGlyphs">0.887</text></svg>
</body></html>
